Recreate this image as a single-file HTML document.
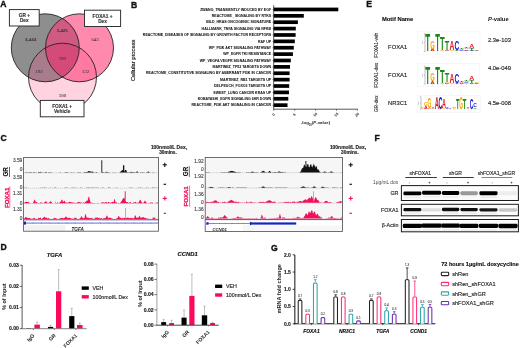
<!DOCTYPE html>
<html><head><meta charset="utf-8"><title>Figure</title>
<style>
html,body{margin:0;padding:0;background:#fff;width:520px;height:348px;overflow:hidden}
svg{display:block;font-family:"Liberation Sans",Arial,sans-serif}
</style></head><body>
<svg width="520" height="348" viewBox="0 0 520 348">
<rect width="520" height="348" fill="#fff"/>
<g id="A">
<text x="0.30" y="6.67" font-size="8.6" font-weight="bold" fill="#111" stroke="#111" stroke-width="0.35">A</text>
<defs>
<clipPath id="cG"><circle cx="45.3" cy="47.8" r="34.0"/></clipPath>
<clipPath id="cP"><circle cx="79.5" cy="47.8" r="34.0"/></clipPath>
<clipPath id="cV"><circle cx="62.5" cy="77.2" r="34.0"/></clipPath>
</defs>
<circle cx="62.5" cy="77.2" r="34.0" fill="#ffd4e0"/>
<circle cx="45.3" cy="47.8" r="34.0" fill="#8e8e8e"/>
<circle cx="79.5" cy="47.8" r="34.0" fill="#ff8aae"/>
<g clip-path="url(#cG)"><circle cx="79.5" cy="47.8" r="34.0" fill="#cf5a82"/><circle cx="62.5" cy="77.2" r="34.0" fill="#a87b8d"/></g>
<g clip-path="url(#cP)"><circle cx="62.5" cy="77.2" r="34.0" fill="#ff7aa2"/></g>
<g clip-path="url(#cG)"><g clip-path="url(#cP)"><circle cx="62.5" cy="77.2" r="34.0" fill="#d44a78"/></g></g>
<circle cx="45.3" cy="47.8" r="34.0" fill="none" stroke="#222" stroke-width="0.9"/>
<circle cx="79.5" cy="47.8" r="34.0" fill="none" stroke="#222" stroke-width="0.9"/>
<circle cx="62.5" cy="77.2" r="34.0" fill="none" stroke="#222" stroke-width="0.9"/>
<text x="30.60" y="41.19" font-size="4.9" font-weight="bold" font-family="Liberation Serif" text-anchor="middle" fill="#333" stroke="#333" stroke-width="0.05">3,444</text>
<text x="62.25" y="32.49" font-size="4.9" font-weight="bold" font-family="Liberation Serif" text-anchor="middle" fill="#333" stroke="#333" stroke-width="0.05">1,425</text>
<text x="95.00" y="41.23" font-size="5.0" font-family="Liberation Serif" text-anchor="middle" fill="#3c3c3c" stroke="#3c3c3c" stroke-width="0.06">543</text>
<text x="62.35" y="59.73" font-size="5.0" font-family="Liberation Serif" text-anchor="middle" fill="#3c3c3c" stroke="#3c3c3c" stroke-width="0.06">789</text>
<text x="38.90" y="73.02" font-size="5.0" font-family="Liberation Serif" text-anchor="middle" fill="#3c3c3c" stroke="#3c3c3c" stroke-width="0.06">192</text>
<text x="85.75" y="73.02" font-size="5.0" font-family="Liberation Serif" text-anchor="middle" fill="#3c3c3c" stroke="#3c3c3c" stroke-width="0.06">132</text>
<text x="62.50" y="96.52" font-size="5.0" font-family="Liberation Serif" text-anchor="middle" fill="#3c3c3c" stroke="#3c3c3c" stroke-width="0.06">180</text>
<rect x="9.40" y="9.60" width="29.80" height="16.40" fill="#fff" stroke="#2a2a2a" stroke-width="0.95"/>
<text x="24.30" y="16.99" font-size="4.75" font-weight="bold" text-anchor="middle" fill="#333" stroke="#333" stroke-width="0.14">GR +</text>
<text x="24.30" y="22.19" font-size="4.75" font-weight="bold" text-anchor="middle" fill="#333" stroke="#333" stroke-width="0.14">Dex</text>
<rect x="84.50" y="10.20" width="36.10" height="16.30" fill="#fff" stroke="#2a2a2a" stroke-width="0.95"/>
<text x="102.55" y="17.54" font-size="4.75" font-weight="bold" text-anchor="middle" fill="#333" stroke="#333" stroke-width="0.14">FOXA1 +</text>
<text x="102.55" y="22.74" font-size="4.75" font-weight="bold" text-anchor="middle" fill="#333" stroke="#333" stroke-width="0.14">Dex</text>
<rect x="40.30" y="100.40" width="43.70" height="16.40" fill="#fff" stroke="#2a2a2a" stroke-width="0.95"/>
<text x="62.15" y="107.79" font-size="4.75" font-weight="bold" text-anchor="middle" fill="#333" stroke="#333" stroke-width="0.14">FOXA1 +</text>
<text x="62.15" y="112.99" font-size="4.75" font-weight="bold" text-anchor="middle" fill="#333" stroke="#333" stroke-width="0.14">Vehicle</text>
</g>
<g id="B">
<text x="130.90" y="7.62" font-size="8.6" font-weight="bold" fill="#111" stroke="#111" stroke-width="0.35">B</text>
<rect x="273.70" y="7.60" width="64.60" height="3.70" fill="#000"/>
<line x1="272.50" y1="9.45" x2="273.70" y2="9.45" stroke="#111" stroke-width="0.5"/>
<text x="271.10" y="10.68" font-size="3.56" font-weight="bold" text-anchor="end" fill="#111" stroke="#111" stroke-width="0.04">ZWANG_TRANSIENTLY INDUCED BY EGF</text>
<rect x="273.70" y="13.98" width="30.10" height="3.70" fill="#000"/>
<line x1="272.50" y1="15.83" x2="273.70" y2="15.83" stroke="#111" stroke-width="0.5"/>
<text x="271.10" y="17.06" font-size="3.56" font-weight="bold" text-anchor="end" fill="#111" stroke="#111" stroke-width="0.04">REACTOME_ SIGNALING BY RTKS</text>
<rect x="273.70" y="20.36" width="24.20" height="3.70" fill="#000"/>
<line x1="272.50" y1="22.21" x2="273.70" y2="22.21" stroke="#111" stroke-width="0.5"/>
<text x="271.10" y="23.44" font-size="3.56" font-weight="bold" text-anchor="end" fill="#111" stroke="#111" stroke-width="0.04">BILD_HRAS ONCOGENIC SIGNATURE</text>
<rect x="273.70" y="26.74" width="22.10" height="3.70" fill="#000"/>
<line x1="272.50" y1="28.59" x2="273.70" y2="28.59" stroke="#111" stroke-width="0.5"/>
<text x="271.10" y="29.82" font-size="3.56" font-weight="bold" text-anchor="end" fill="#111" stroke="#111" stroke-width="0.04">HALLMARK_TNFA SIGNALING VIA NFKB</text>
<rect x="273.70" y="33.12" width="21.90" height="3.70" fill="#000"/>
<line x1="272.50" y1="34.97" x2="273.70" y2="34.97" stroke="#111" stroke-width="0.5"/>
<text x="271.10" y="36.20" font-size="3.56" font-weight="bold" text-anchor="end" fill="#111" stroke="#111" stroke-width="0.04">REACTOME_DISEASES OF SIGNALING  BY GROWTH FACTOR RECEPTORS</text>
<rect x="273.70" y="39.50" width="21.10" height="3.70" fill="#000"/>
<line x1="272.50" y1="41.35" x2="273.70" y2="41.35" stroke="#111" stroke-width="0.5"/>
<text x="271.10" y="42.58" font-size="3.56" font-weight="bold" text-anchor="end" fill="#111" stroke="#111" stroke-width="0.04">RAF UP</text>
<rect x="273.70" y="45.88" width="20.10" height="3.70" fill="#000"/>
<line x1="272.50" y1="47.73" x2="273.70" y2="47.73" stroke="#111" stroke-width="0.5"/>
<text x="271.10" y="48.96" font-size="3.56" font-weight="bold" text-anchor="end" fill="#111" stroke="#111" stroke-width="0.04">WP_PI3K AKT SIGNALING PATHWAY</text>
<rect x="273.70" y="52.26" width="19.20" height="3.70" fill="#000"/>
<line x1="272.50" y1="54.11" x2="273.70" y2="54.11" stroke="#111" stroke-width="0.5"/>
<text x="271.10" y="55.34" font-size="3.56" font-weight="bold" text-anchor="end" fill="#111" stroke="#111" stroke-width="0.04">WP_EGFR TKI RESISTANCE</text>
<rect x="273.70" y="58.64" width="17.10" height="3.70" fill="#000"/>
<line x1="272.50" y1="60.49" x2="273.70" y2="60.49" stroke="#111" stroke-width="0.5"/>
<text x="271.10" y="61.72" font-size="3.56" font-weight="bold" text-anchor="end" fill="#111" stroke="#111" stroke-width="0.04">WP_VEGFA VEGFR SIGNALING PATHWAY</text>
<rect x="273.70" y="65.02" width="16.30" height="3.70" fill="#000"/>
<line x1="272.50" y1="66.87" x2="273.70" y2="66.87" stroke="#111" stroke-width="0.5"/>
<text x="271.10" y="68.10" font-size="3.56" font-weight="bold" text-anchor="end" fill="#111" stroke="#111" stroke-width="0.04">MARTINEZ_TP53 TARGETS DOWN</text>
<rect x="273.70" y="71.40" width="15.90" height="3.70" fill="#000"/>
<line x1="272.50" y1="73.25" x2="273.70" y2="73.25" stroke="#111" stroke-width="0.5"/>
<text x="271.10" y="74.48" font-size="3.56" font-weight="bold" text-anchor="end" fill="#111" stroke="#111" stroke-width="0.04">REACTOME_CONSTITUTIVE SIGNALING BY ABERRANT PI3K IN CANCER</text>
<rect x="273.70" y="77.78" width="15.90" height="3.70" fill="#000"/>
<line x1="272.50" y1="79.63" x2="273.70" y2="79.63" stroke="#111" stroke-width="0.5"/>
<text x="271.10" y="80.86" font-size="3.56" font-weight="bold" text-anchor="end" fill="#111" stroke="#111" stroke-width="0.04">MARTINEZ_RB1 TARGETS UP</text>
<rect x="273.70" y="84.16" width="15.50" height="3.70" fill="#000"/>
<line x1="272.50" y1="86.01" x2="273.70" y2="86.01" stroke="#111" stroke-width="0.5"/>
<text x="271.10" y="87.24" font-size="3.56" font-weight="bold" text-anchor="end" fill="#111" stroke="#111" stroke-width="0.04">DELPEUCH_FOXO3 TARGETS UP</text>
<rect x="273.70" y="90.54" width="15.30" height="3.70" fill="#000"/>
<line x1="272.50" y1="92.39" x2="273.70" y2="92.39" stroke="#111" stroke-width="0.5"/>
<text x="271.10" y="93.62" font-size="3.56" font-weight="bold" text-anchor="end" fill="#111" stroke="#111" stroke-width="0.04">SWEET_LUNG CANCER KRAS UP</text>
<rect x="273.70" y="96.92" width="14.60" height="3.70" fill="#000"/>
<line x1="272.50" y1="98.77" x2="273.70" y2="98.77" stroke="#111" stroke-width="0.5"/>
<text x="271.10" y="100.00" font-size="3.56" font-weight="bold" text-anchor="end" fill="#111" stroke="#111" stroke-width="0.04">KOBAYASHI_EGFR SIGNALING 6HR DOWN</text>
<rect x="273.70" y="103.30" width="13.80" height="3.70" fill="#000"/>
<line x1="272.50" y1="105.15" x2="273.70" y2="105.15" stroke="#111" stroke-width="0.5"/>
<text x="271.10" y="106.38" font-size="3.56" font-weight="bold" text-anchor="end" fill="#111" stroke="#111" stroke-width="0.04">REACTOME_PI3K AKT SIGNALING IN CANCER</text>
<line x1="273.70" y1="5.30" x2="273.70" y2="109.40" stroke="#111" stroke-width="0.7"/>
<line x1="273.70" y1="109.20" x2="357.80" y2="109.20" stroke="#111" stroke-width="0.7"/>
<line x1="273.80" y1="109.20" x2="273.80" y2="110.80" stroke="#111" stroke-width="0.5"/>
<text transform="translate(273.50,114.6) rotate(-45)" text-anchor="middle" y="1.3" font-size="3.7" font-weight="bold" fill="#222">0</text>
<line x1="294.70" y1="109.20" x2="294.70" y2="110.80" stroke="#111" stroke-width="0.5"/>
<text transform="translate(294.40,114.6) rotate(-45)" text-anchor="middle" y="1.3" font-size="3.7" font-weight="bold" fill="#222">5</text>
<line x1="315.60" y1="109.20" x2="315.60" y2="110.80" stroke="#111" stroke-width="0.5"/>
<text transform="translate(315.30,114.6) rotate(-45)" text-anchor="middle" y="1.3" font-size="3.7" font-weight="bold" fill="#222">10</text>
<line x1="336.50" y1="109.20" x2="336.50" y2="110.80" stroke="#111" stroke-width="0.5"/>
<text transform="translate(336.20,114.6) rotate(-45)" text-anchor="middle" y="1.3" font-size="3.7" font-weight="bold" fill="#222">15</text>
<line x1="357.40" y1="109.20" x2="357.40" y2="110.80" stroke="#111" stroke-width="0.5"/>
<text transform="translate(357.10,114.6) rotate(-45)" text-anchor="middle" y="1.3" font-size="3.7" font-weight="bold" fill="#222">20</text>
<text x="315.5" y="124.4" font-size="4.3" font-weight="bold" fill="#222" text-anchor="middle">-log<tspan font-size="2.8" dy="1.2">10</tspan><tspan dy="-1.2">(</tspan><tspan font-style="italic">P</tspan>-value)</text>
<text transform="translate(134.9,60.3) rotate(-90)" text-anchor="middle" y="0" font-size="5.8" fill="#111" stroke="#111" stroke-width="0.15">Cellular process</text>
</g>
<g id="E">
<text x="366.20" y="7.42" font-size="8.6" font-weight="bold" fill="#111" stroke="#111" stroke-width="0.35">E</text>
<text x="382.00" y="20.90" font-size="5.8" font-weight="bold" fill="#111" stroke="#111" stroke-width="0.14">Motif Name</text>
<text x="488" y="20.9" font-size="5.8" font-weight="bold" fill="#111"><tspan font-style="italic">P</tspan>-value</text>
<text transform="translate(376.4,45.25) rotate(-90)" text-anchor="middle" y="1.65" font-size="4.8" fill="#222" stroke="#222" stroke-width="0.1">FOXA1-veh</text>
<text transform="translate(376.4,75.3) rotate(-90)" text-anchor="middle" y="1.65" font-size="4.8" fill="#222" stroke="#222" stroke-width="0.1">FOXA1-dex</text>
<text transform="translate(376.4,103.9) rotate(-90)" text-anchor="middle" y="1.65" font-size="4.8" fill="#222" stroke="#222" stroke-width="0.1">GR-dex</text>
<text x="388.10" y="48.80" font-size="5.8" fill="#222" stroke="#222" stroke-width="0.14">FOXA1</text>
<text x="388.10" y="77.30" font-size="5.8" fill="#222" stroke="#222" stroke-width="0.14">FOXA1</text>
<text x="388.10" y="105.40" font-size="5.8" fill="#222" stroke="#222" stroke-width="0.14">NR3C1</text>
<text x="488.00" y="41.80" font-size="5.8" fill="#222" stroke="#222" stroke-width="0.14">2.3e-103</text>
<text x="488.00" y="70.30" font-size="5.8" fill="#222" stroke="#222" stroke-width="0.14">4.0e-049</text>
<text x="488.00" y="105.30" font-size="5.8" fill="#222" stroke="#222" stroke-width="0.14">4.5e-008</text>
<rect x="417.80" y="31.20" width="62.20" height="23.60" fill="#fff" stroke="#f2f2f2" stroke-width="0.6"/>
<path d="M423.80,33.60 H425.00 V51.60 H423.80 M424.20,42.60 H425.00" fill="none" stroke="#777" stroke-width="0.45"/>
<text transform="translate(422.80,42.60) rotate(-90)" text-anchor="middle" y="0.6" font-size="1.8" fill="#777">bits</text>
<text transform="translate(427.75,51.40) scale(0.802,2.391)" text-anchor="middle" font-size="10" font-weight="bold" fill="#178a17">T</text>
<line x1="427.75" y1="51.70" x2="427.75" y2="52.40" stroke="#999" stroke-width="0.4"/>
<text transform="translate(432.50,51.40) scale(0.629,0.377)" text-anchor="middle" font-size="10" font-weight="bold" fill="#e0201e">A</text>
<text transform="translate(432.50,48.80) scale(0.584,1.116)" text-anchor="middle" font-size="10" font-weight="bold" fill="#f7a600">G</text>
<line x1="432.50" y1="51.70" x2="432.50" y2="52.40" stroke="#999" stroke-width="0.4"/>
<text transform="translate(437.55,51.40) scale(0.763,2.391)" text-anchor="middle" font-size="10" font-weight="bold" fill="#178a17">T</text>
<line x1="437.55" y1="51.70" x2="437.55" y2="52.40" stroke="#999" stroke-width="0.4"/>
<text transform="translate(442.25,51.40) scale(0.599,0.174)" text-anchor="middle" font-size="10" font-weight="bold" fill="#f7a600">G</text>
<text transform="translate(442.25,50.20) scale(0.763,1.841)" text-anchor="middle" font-size="10" font-weight="bold" fill="#178a17">T</text>
<line x1="442.25" y1="51.70" x2="442.25" y2="52.40" stroke="#999" stroke-width="0.4"/>
<text transform="translate(447.00,51.40) scale(0.629,0.087)" text-anchor="middle" font-size="10" font-weight="bold" fill="#1818e0">C</text>
<text transform="translate(447.00,50.80) scale(0.584,0.188)" text-anchor="middle" font-size="10" font-weight="bold" fill="#f7a600">G</text>
<text transform="translate(447.00,49.50) scale(0.744,1.203)" text-anchor="middle" font-size="10" font-weight="bold" fill="#178a17">T</text>
<line x1="447.00" y1="51.70" x2="447.00" y2="52.40" stroke="#999" stroke-width="0.4"/>
<text transform="translate(451.85,51.40) scale(0.630,0.174)" text-anchor="middle" font-size="10" font-weight="bold" fill="#f7a600">G</text>
<text transform="translate(451.85,50.20) scale(0.679,1.246)" text-anchor="middle" font-size="10" font-weight="bold" fill="#e0201e">A</text>
<line x1="451.85" y1="51.70" x2="451.85" y2="52.40" stroke="#999" stroke-width="0.4"/>
<text transform="translate(456.80,51.40) scale(0.783,0.174)" text-anchor="middle" font-size="10" font-weight="bold" fill="#178a17">T</text>
<text transform="translate(456.80,50.20) scale(0.662,1.246)" text-anchor="middle" font-size="10" font-weight="bold" fill="#1818e0">C</text>
<line x1="456.80" y1="51.70" x2="456.80" y2="52.40" stroke="#999" stroke-width="0.4"/>
<text transform="translate(461.60,51.40) scale(0.662,0.145)" text-anchor="middle" font-size="10" font-weight="bold" fill="#1818e0">C</text>
<text transform="translate(461.60,50.40) scale(0.662,0.203)" text-anchor="middle" font-size="10" font-weight="bold" fill="#e0201e">A</text>
<text transform="translate(461.60,49.00) scale(0.783,0.232)" text-anchor="middle" font-size="10" font-weight="bold" fill="#178a17">T</text>
<line x1="461.60" y1="51.70" x2="461.60" y2="52.40" stroke="#999" stroke-width="0.4"/>
<text transform="translate(466.50,51.40) scale(0.615,0.116)" text-anchor="middle" font-size="10" font-weight="bold" fill="#f7a600">G</text>
<text transform="translate(466.50,50.60) scale(0.662,0.174)" text-anchor="middle" font-size="10" font-weight="bold" fill="#1818e0">C</text>
<text transform="translate(466.50,49.40) scale(0.662,0.145)" text-anchor="middle" font-size="10" font-weight="bold" fill="#e0201e">A</text>
<text transform="translate(466.50,48.40) scale(0.783,0.145)" text-anchor="middle" font-size="10" font-weight="bold" fill="#178a17">T</text>
<line x1="466.50" y1="51.70" x2="466.50" y2="52.40" stroke="#999" stroke-width="0.4"/>
<text transform="translate(471.70,51.40) scale(0.696,0.087)" text-anchor="middle" font-size="10" font-weight="bold" fill="#1818e0">C</text>
<text transform="translate(471.70,50.80) scale(0.822,0.435)" text-anchor="middle" font-size="10" font-weight="bold" fill="#178a17">T</text>
<text transform="translate(471.70,47.80) scale(0.696,0.507)" text-anchor="middle" font-size="10" font-weight="bold" fill="#e0201e">A</text>
<line x1="471.70" y1="51.70" x2="471.70" y2="52.40" stroke="#999" stroke-width="0.4"/>
<text transform="translate(476.60,51.40) scale(0.662,0.087)" text-anchor="middle" font-size="10" font-weight="bold" fill="#1818e0">C</text>
<text transform="translate(476.60,50.80) scale(0.615,0.188)" text-anchor="middle" font-size="10" font-weight="bold" fill="#f7a600">G</text>
<line x1="476.60" y1="51.70" x2="476.60" y2="52.40" stroke="#999" stroke-width="0.4"/>
<rect x="417.60" y="63.40" width="62.00" height="23.10" fill="#fff" stroke="#f2f2f2" stroke-width="0.6"/>
<path d="M423.80,66.10 H425.00 V84.10 H423.80 M424.20,75.10 H425.00" fill="none" stroke="#777" stroke-width="0.45"/>
<text transform="translate(422.80,75.10) rotate(-90)" text-anchor="middle" y="0.6" font-size="1.8" fill="#777">bits</text>
<text transform="translate(427.75,83.90) scale(0.802,2.391)" text-anchor="middle" font-size="10" font-weight="bold" fill="#178a17">T</text>
<line x1="427.75" y1="84.20" x2="427.75" y2="84.90" stroke="#999" stroke-width="0.4"/>
<text transform="translate(432.50,83.90) scale(0.629,0.377)" text-anchor="middle" font-size="10" font-weight="bold" fill="#e0201e">A</text>
<text transform="translate(432.50,81.30) scale(0.584,1.116)" text-anchor="middle" font-size="10" font-weight="bold" fill="#f7a600">G</text>
<line x1="432.50" y1="84.20" x2="432.50" y2="84.90" stroke="#999" stroke-width="0.4"/>
<text transform="translate(437.55,83.90) scale(0.763,2.391)" text-anchor="middle" font-size="10" font-weight="bold" fill="#178a17">T</text>
<line x1="437.55" y1="84.20" x2="437.55" y2="84.90" stroke="#999" stroke-width="0.4"/>
<text transform="translate(442.25,83.90) scale(0.599,0.174)" text-anchor="middle" font-size="10" font-weight="bold" fill="#f7a600">G</text>
<text transform="translate(442.25,82.70) scale(0.763,1.841)" text-anchor="middle" font-size="10" font-weight="bold" fill="#178a17">T</text>
<line x1="442.25" y1="84.20" x2="442.25" y2="84.90" stroke="#999" stroke-width="0.4"/>
<text transform="translate(447.00,83.90) scale(0.629,0.087)" text-anchor="middle" font-size="10" font-weight="bold" fill="#1818e0">C</text>
<text transform="translate(447.00,83.30) scale(0.584,0.188)" text-anchor="middle" font-size="10" font-weight="bold" fill="#f7a600">G</text>
<text transform="translate(447.00,82.00) scale(0.744,1.203)" text-anchor="middle" font-size="10" font-weight="bold" fill="#178a17">T</text>
<line x1="447.00" y1="84.20" x2="447.00" y2="84.90" stroke="#999" stroke-width="0.4"/>
<text transform="translate(451.85,83.90) scale(0.630,0.174)" text-anchor="middle" font-size="10" font-weight="bold" fill="#f7a600">G</text>
<text transform="translate(451.85,82.70) scale(0.679,1.246)" text-anchor="middle" font-size="10" font-weight="bold" fill="#e0201e">A</text>
<line x1="451.85" y1="84.20" x2="451.85" y2="84.90" stroke="#999" stroke-width="0.4"/>
<text transform="translate(456.80,83.90) scale(0.783,0.174)" text-anchor="middle" font-size="10" font-weight="bold" fill="#178a17">T</text>
<text transform="translate(456.80,82.70) scale(0.662,1.246)" text-anchor="middle" font-size="10" font-weight="bold" fill="#1818e0">C</text>
<line x1="456.80" y1="84.20" x2="456.80" y2="84.90" stroke="#999" stroke-width="0.4"/>
<text transform="translate(461.60,83.90) scale(0.662,0.145)" text-anchor="middle" font-size="10" font-weight="bold" fill="#1818e0">C</text>
<text transform="translate(461.60,82.90) scale(0.662,0.203)" text-anchor="middle" font-size="10" font-weight="bold" fill="#e0201e">A</text>
<text transform="translate(461.60,81.50) scale(0.783,0.232)" text-anchor="middle" font-size="10" font-weight="bold" fill="#178a17">T</text>
<line x1="461.60" y1="84.20" x2="461.60" y2="84.90" stroke="#999" stroke-width="0.4"/>
<text transform="translate(466.50,83.90) scale(0.615,0.116)" text-anchor="middle" font-size="10" font-weight="bold" fill="#f7a600">G</text>
<text transform="translate(466.50,83.10) scale(0.662,0.174)" text-anchor="middle" font-size="10" font-weight="bold" fill="#1818e0">C</text>
<text transform="translate(466.50,81.90) scale(0.662,0.145)" text-anchor="middle" font-size="10" font-weight="bold" fill="#e0201e">A</text>
<text transform="translate(466.50,80.90) scale(0.783,0.145)" text-anchor="middle" font-size="10" font-weight="bold" fill="#178a17">T</text>
<line x1="466.50" y1="84.20" x2="466.50" y2="84.90" stroke="#999" stroke-width="0.4"/>
<text transform="translate(471.70,83.90) scale(0.696,0.087)" text-anchor="middle" font-size="10" font-weight="bold" fill="#1818e0">C</text>
<text transform="translate(471.70,83.30) scale(0.822,0.435)" text-anchor="middle" font-size="10" font-weight="bold" fill="#178a17">T</text>
<text transform="translate(471.70,80.30) scale(0.696,0.507)" text-anchor="middle" font-size="10" font-weight="bold" fill="#e0201e">A</text>
<line x1="471.70" y1="84.20" x2="471.70" y2="84.90" stroke="#999" stroke-width="0.4"/>
<text transform="translate(476.60,83.90) scale(0.662,0.087)" text-anchor="middle" font-size="10" font-weight="bold" fill="#1818e0">C</text>
<text transform="translate(476.60,83.30) scale(0.615,0.188)" text-anchor="middle" font-size="10" font-weight="bold" fill="#f7a600">G</text>
<line x1="476.60" y1="84.20" x2="476.60" y2="84.90" stroke="#999" stroke-width="0.4"/>
<rect x="417.60" y="95.40" width="62.90" height="17.00" fill="#fff" stroke="#f2f2f2" stroke-width="0.6"/>
<path d="M419.80,96.80 H421.00 V109.30 H419.80 M420.20,103.05 H421.00" fill="none" stroke="#777" stroke-width="0.45"/>
<text transform="translate(418.80,103.05) rotate(-90)" text-anchor="middle" y="0.6" font-size="1.8" fill="#777">bits</text>
<text transform="translate(422.55,108.60) scale(0.323,0.087)" text-anchor="middle" font-size="10" font-weight="bold" fill="#f7a600">G</text>
<text transform="translate(422.55,108.00) scale(0.348,0.087)" text-anchor="middle" font-size="10" font-weight="bold" fill="#e0201e">A</text>
<line x1="422.55" y1="108.90" x2="422.55" y2="109.60" stroke="#999" stroke-width="0.4"/>
<text transform="translate(425.85,108.60) scale(0.513,0.333)" text-anchor="middle" font-size="10" font-weight="bold" fill="#e0201e">A</text>
<text transform="translate(425.85,106.30) scale(0.476,0.507)" text-anchor="middle" font-size="10" font-weight="bold" fill="#f7a600">G</text>
<line x1="425.85" y1="108.90" x2="425.85" y2="109.60" stroke="#999" stroke-width="0.4"/>
<text transform="translate(429.50,108.60) scale(0.530,0.116)" text-anchor="middle" font-size="10" font-weight="bold" fill="#e0201e">A</text>
<text transform="translate(429.50,107.80) scale(0.492,1.420)" text-anchor="middle" font-size="10" font-weight="bold" fill="#f7a600">G</text>
<line x1="429.50" y1="108.90" x2="429.50" y2="109.60" stroke="#999" stroke-width="0.4"/>
<text transform="translate(433.10,108.60) scale(0.431,0.130)" text-anchor="middle" font-size="10" font-weight="bold" fill="#e0201e">A</text>
<text transform="translate(433.10,107.70) scale(0.509,0.116)" text-anchor="middle" font-size="10" font-weight="bold" fill="#178a17">T</text>
<line x1="433.10" y1="108.90" x2="433.10" y2="109.60" stroke="#999" stroke-width="0.4"/>
<text transform="translate(436.75,108.60) scale(0.580,1.565)" text-anchor="middle" font-size="10" font-weight="bold" fill="#e0201e">A</text>
<line x1="436.75" y1="108.90" x2="436.75" y2="109.60" stroke="#999" stroke-width="0.4"/>
<text transform="translate(440.55,108.60) scale(0.546,1.580)" text-anchor="middle" font-size="10" font-weight="bold" fill="#1818e0">C</text>
<line x1="440.55" y1="108.90" x2="440.55" y2="109.60" stroke="#999" stroke-width="0.4"/>
<text transform="translate(443.95,108.60) scale(0.507,0.101)" text-anchor="middle" font-size="10" font-weight="bold" fill="#f7a600">G</text>
<text transform="translate(443.95,107.90) scale(0.546,1.362)" text-anchor="middle" font-size="10" font-weight="bold" fill="#e0201e">A</text>
<line x1="443.95" y1="108.90" x2="443.95" y2="109.60" stroke="#999" stroke-width="0.4"/>
<text transform="translate(447.20,108.60) scale(0.431,0.101)" text-anchor="middle" font-size="10" font-weight="bold" fill="#1818e0">C</text>
<text transform="translate(447.20,107.90) scale(0.509,0.130)" text-anchor="middle" font-size="10" font-weight="bold" fill="#178a17">T</text>
<line x1="447.20" y1="108.90" x2="447.20" y2="109.60" stroke="#999" stroke-width="0.4"/>
<text transform="translate(450.25,108.60) scale(0.282,0.072)" text-anchor="middle" font-size="10" font-weight="bold" fill="#1818e0">C</text>
<line x1="450.25" y1="108.90" x2="450.25" y2="109.60" stroke="#999" stroke-width="0.4"/>
<text transform="translate(454.05,108.60) scale(0.476,0.145)" text-anchor="middle" font-size="10" font-weight="bold" fill="#f7a600">G</text>
<text transform="translate(454.05,107.60) scale(0.513,0.217)" text-anchor="middle" font-size="10" font-weight="bold" fill="#e0201e">A</text>
<line x1="454.05" y1="108.90" x2="454.05" y2="109.60" stroke="#999" stroke-width="0.4"/>
<text transform="translate(457.65,108.60) scale(0.567,1.406)" text-anchor="middle" font-size="10" font-weight="bold" fill="#178a17">T</text>
<line x1="457.65" y1="108.90" x2="457.65" y2="109.60" stroke="#999" stroke-width="0.4"/>
<text transform="translate(461.15,108.60) scale(0.476,1.565)" text-anchor="middle" font-size="10" font-weight="bold" fill="#f7a600">G</text>
<line x1="461.15" y1="108.90" x2="461.15" y2="109.60" stroke="#999" stroke-width="0.4"/>
<text transform="translate(464.60,108.60) scale(0.587,1.536)" text-anchor="middle" font-size="10" font-weight="bold" fill="#178a17">T</text>
<line x1="464.60" y1="108.90" x2="464.60" y2="109.60" stroke="#999" stroke-width="0.4"/>
<text transform="translate(467.95,108.60) scale(0.381,0.116)" text-anchor="middle" font-size="10" font-weight="bold" fill="#e0201e">A</text>
<text transform="translate(467.95,107.80) scale(0.450,0.130)" text-anchor="middle" font-size="10" font-weight="bold" fill="#178a17">T</text>
<line x1="467.95" y1="108.90" x2="467.95" y2="109.60" stroke="#999" stroke-width="0.4"/>
<text transform="translate(471.55,108.60) scale(0.513,1.507)" text-anchor="middle" font-size="10" font-weight="bold" fill="#1818e0">C</text>
<line x1="471.55" y1="108.90" x2="471.55" y2="109.60" stroke="#999" stroke-width="0.4"/>
<text transform="translate(475.00,108.60) scale(0.587,0.217)" text-anchor="middle" font-size="10" font-weight="bold" fill="#178a17">T</text>
<text transform="translate(475.00,107.10) scale(0.497,0.493)" text-anchor="middle" font-size="10" font-weight="bold" fill="#1818e0">C</text>
<line x1="475.00" y1="108.90" x2="475.00" y2="109.60" stroke="#999" stroke-width="0.4"/>
<text transform="translate(478.10,108.60) scale(0.215,0.058)" text-anchor="middle" font-size="10" font-weight="bold" fill="#f7a600">G</text>
<line x1="478.10" y1="108.90" x2="478.10" y2="109.60" stroke="#999" stroke-width="0.4"/>
</g>
<g id="C">
<text x="0.60" y="141.17" font-size="8.6" font-weight="bold" fill="#111" stroke="#111" stroke-width="0.35">C</text>
<rect x="23.60" y="157.40" width="134.90" height="62.40" fill="#f6f6f6"/>
<rect x="23.60" y="219.80" width="134.90" height="11.40" fill="#fff"/>
<line x1="24.10" y1="172.85" x2="158.00" y2="172.85" stroke="#9a9a9a" stroke-width="0.45" stroke-dasharray="1.2,0.8"/>
<polygon points="24.40,172.60 24.40,172.54 24.85,172.54 24.85,172.40 25.30,172.40 25.30,172.23 25.75,172.23 25.75,172.11 26.20,172.11 26.20,172.35 26.65,172.35 26.65,172.35 27.10,172.35 27.10,172.35 27.55,172.35 27.55,172.35 28.00,172.35 28.00,172.35 28.45,172.35 28.45,172.35 28.90,172.35 28.90,172.35 29.35,172.35 29.35,172.35 29.80,172.35 29.80,172.35 30.25,172.35 30.25,172.02 30.70,172.02 30.70,172.10 31.15,172.10 31.15,172.35 31.60,172.35 31.60,172.37 32.05,172.37 32.05,172.46 32.50,172.46 32.50,172.42 32.95,172.42 32.95,172.23 33.40,172.23 33.40,172.07 33.85,172.07 33.85,172.02 34.30,172.02 34.30,172.15 34.75,172.15 34.75,172.36 35.20,172.36 35.20,172.44 35.65,172.44 35.65,172.32 36.10,172.32 36.10,172.18 36.55,172.18 36.55,172.60 37.00,172.60 37.00,172.60 37.45,172.60 37.45,172.60 37.90,172.60 37.90,172.08 38.35,172.08 38.35,172.00 38.80,172.00 38.80,171.94 39.25,171.94 39.25,172.03 39.70,172.03 39.70,171.96 40.15,171.96 40.15,171.85 40.60,171.85 40.60,171.91 41.05,171.91 41.05,172.13 41.50,172.13 41.50,172.18 41.95,172.18 41.95,172.27 42.40,172.27 42.40,172.23 42.85,172.23 42.85,172.45 43.30,172.45 43.30,172.37 43.75,172.37 43.75,172.46 44.20,172.46 44.20,172.39 44.65,172.39 44.65,172.25 45.10,172.25 45.10,172.00 45.55,172.00 45.55,171.85 46.00,171.85 46.00,171.91 46.45,171.91 46.45,172.00 46.90,172.00 46.90,172.60 47.35,172.60 47.35,172.60 47.80,172.60 47.80,172.31 48.25,172.31 48.25,172.19 48.70,172.19 48.70,172.23 49.15,172.23 49.15,172.35 49.60,172.35 49.60,172.34 50.05,172.34 50.05,172.27 50.50,172.27 50.50,172.06 50.95,172.06 50.95,172.07 51.40,172.07 51.40,172.60 51.85,172.60 51.85,172.60 52.30,172.60 52.30,172.60 52.75,172.60 52.75,172.60 53.20,172.60 53.20,172.60 53.65,172.60 53.65,172.60 54.10,172.60 54.10,172.60 54.55,172.60 54.55,172.60 55.00,172.60 55.00,172.60 55.45,172.60 55.45,172.60 55.90,172.60 55.90,172.60 56.35,172.60 56.35,172.60 56.80,172.60 56.80,172.60 57.25,172.60 57.25,172.60 57.70,172.60 57.70,172.60 58.15,172.60 58.15,172.60 58.60,172.60 58.60,172.60 59.05,172.60 59.05,172.60 59.50,172.60 59.50,172.34 59.95,172.34 59.95,172.23 60.40,172.23 60.40,172.35 60.85,172.35 60.85,172.60 61.30,172.60 61.30,172.60 61.75,172.60 61.75,172.60 62.20,172.60 62.20,172.60 62.65,172.60 62.65,172.60 63.10,172.60 63.10,172.60 63.55,172.60 63.55,172.60 64.00,172.60 64.00,172.60 64.45,172.60 64.45,172.60 64.90,172.60 64.90,171.93 65.35,171.93 65.35,172.13 65.80,172.13 65.80,172.10 66.25,172.10 66.25,172.21 66.70,172.21 66.70,172.13 67.15,172.13 67.15,172.27 67.60,172.27 67.60,172.20 68.05,172.20 68.05,172.13 68.50,172.13 68.50,172.60 68.95,172.60 68.95,172.60 69.40,172.60 69.40,172.60 69.85,172.60 69.85,172.60 70.30,172.60 70.30,172.60 70.75,172.60 70.75,172.12 71.20,172.12 71.20,172.35 71.65,172.35 71.65,172.35 72.10,172.35 72.10,172.45 72.55,172.45 72.55,172.38 73.00,172.38 73.00,172.25 73.45,172.25 73.45,171.99 73.90,171.99 73.90,172.60 74.35,172.60 74.35,172.60 74.80,172.60 74.80,172.60 75.25,172.60 75.25,172.60 75.70,172.60 75.70,172.60 76.15,172.60 76.15,172.60 76.60,172.60 76.60,172.60 77.05,172.60 77.05,172.35 77.50,172.35 77.50,172.35 77.95,172.35 77.95,172.35 78.40,172.35 78.40,172.35 78.85,172.35 78.85,172.35 79.30,172.35 79.30,172.35 79.75,172.35 79.75,172.35 80.20,172.35 80.20,172.10 80.65,172.10 80.65,172.60 81.10,172.60 81.10,172.60 81.55,172.60 81.55,172.60 82.00,172.60 82.00,172.60 82.45,172.60 82.45,172.60 82.90,172.60 82.90,172.60 83.35,172.60 83.35,172.14 83.80,172.14 83.80,172.28 84.25,172.28 84.25,172.04 84.70,172.04 84.70,172.12 85.15,172.12 85.15,171.95 85.60,171.95 85.60,172.15 86.05,172.15 86.05,172.12 86.50,172.12 86.50,172.11 86.95,172.11 86.95,172.00 87.40,172.00 87.40,171.76 87.85,171.76 87.85,171.34 88.30,171.34 88.30,171.28 88.75,171.28 88.75,170.96 89.20,170.96 89.20,171.20 89.65,171.20 89.65,171.14 90.10,171.14 90.10,171.48 90.55,171.48 90.55,171.62 91.00,171.62 91.00,171.90 91.45,171.90 91.45,171.61 91.90,171.61 91.90,171.39 92.35,171.39 92.35,171.43 92.80,171.43 92.80,171.70 93.25,171.70 93.25,172.00 93.70,172.00 93.70,172.28 94.15,172.28 94.15,172.47 94.60,172.47 94.60,172.55 95.05,172.55 95.05,172.32 95.50,172.32 95.50,172.30 95.95,172.30 95.95,172.30 96.40,172.30 96.40,172.11 96.85,172.11 96.85,172.03 97.30,172.03 97.30,172.60 97.75,172.60 97.75,172.60 98.20,172.60 98.20,172.60 98.65,172.60 98.65,172.60 99.10,172.60 99.10,172.60 99.55,172.60 99.55,172.60 100.00,172.60 100.00,172.60 100.45,172.60 100.45,172.60 100.90,172.60 100.90,172.60 101.35,172.60 101.35,160.20 101.80,160.20 101.80,160.20 102.25,160.20 102.25,172.11 102.70,172.11 102.70,172.01 103.15,172.01 103.15,172.00 103.60,172.00 103.60,172.13 104.05,172.13 104.05,172.40 104.50,172.40 104.50,172.26 104.95,172.26 104.95,172.31 105.40,172.31 105.40,172.04 105.85,172.04 105.85,172.07 106.30,172.07 106.30,171.82 106.75,171.82 106.75,171.86 107.20,171.86 107.20,172.02 107.65,172.02 107.65,172.24 108.10,172.24 108.10,172.20 108.55,172.20 108.55,172.17 109.00,172.17 109.00,171.98 109.45,171.98 109.45,172.60 109.90,172.60 109.90,172.60 110.35,172.60 110.35,172.60 110.80,172.60 110.80,172.60 111.25,172.60 111.25,172.60 111.70,172.60 111.70,172.60 112.15,172.60 112.15,172.60 112.60,172.60 112.60,172.35 113.05,172.35 113.05,172.40 113.50,172.40 113.50,172.37 113.95,172.37 113.95,172.44 114.40,172.44 114.40,172.35 114.85,172.35 114.85,172.35 115.30,172.35 115.30,172.35 115.75,172.35 115.75,172.60 116.20,172.60 116.20,172.60 116.65,172.60 116.65,172.60 117.10,172.60 117.10,172.59 117.55,172.59 117.55,172.58 118.00,172.58 118.00,172.56 118.45,172.56 118.45,172.51 118.90,172.51 118.90,172.43 119.35,172.43 119.35,172.25 119.80,172.25 119.80,172.00 120.25,172.00 120.25,171.65 120.70,171.65 120.70,171.18 121.15,171.18 121.15,170.91 121.60,170.91 121.60,170.26 122.05,170.26 122.05,170.37 122.50,170.37 122.50,169.96 122.95,169.96 122.95,165.30 123.40,165.30 123.40,165.30 123.85,165.30 123.85,165.30 124.30,165.30 124.30,171.60 124.75,171.60 124.75,170.52 125.20,170.52 125.20,170.11 125.65,170.11 125.65,169.78 126.10,169.78 126.10,170.28 126.55,170.28 126.55,171.41 127.00,171.41 127.00,172.11 127.45,172.11 127.45,172.31 127.90,172.31 127.90,172.33 128.35,172.33 128.35,172.21 128.80,172.21 128.80,172.33 129.25,172.33 129.25,172.37 129.70,172.37 129.70,172.22 130.15,172.22 130.15,171.96 130.60,171.96 130.60,171.76 131.05,171.76 131.05,171.82 131.50,171.82 131.50,171.95 131.95,171.95 131.95,171.95 132.40,171.95 132.40,172.09 132.85,172.09 132.85,172.04 133.30,172.04 133.30,172.15 133.75,172.15 133.75,172.11 134.20,172.11 134.20,172.21 134.65,172.21 134.65,172.29 135.10,172.29 135.10,172.23 135.55,172.23 135.55,172.22 136.00,172.22 136.00,172.02 136.45,172.02 136.45,171.65 136.90,171.65 136.90,171.34 137.35,171.34 137.35,171.44 137.80,171.44 137.80,171.96 138.25,171.96 138.25,172.25 138.70,172.25 138.70,172.48 139.15,172.48 139.15,172.57 139.60,172.57 139.60,172.59 140.05,172.59 140.05,172.35 140.50,172.35 140.50,172.35 140.95,172.35 140.95,172.35 141.40,172.35 141.40,172.35 141.85,172.35 141.85,172.35 142.30,172.35 142.30,172.35 142.75,172.35 142.75,172.35 143.20,172.35 143.20,172.35 143.65,172.35 143.65,172.35 144.10,172.35 144.10,172.35 144.55,172.35 144.55,172.60 145.00,172.60 145.00,172.59 145.45,172.59 145.45,172.56 145.90,172.56 145.90,172.49 146.35,172.49 146.35,172.05 146.80,172.05 146.80,172.13 147.25,172.13 147.25,171.91 147.70,171.91 147.70,171.59 148.15,171.59 148.15,171.61 148.60,171.61 148.60,171.73 149.05,171.73 149.05,172.07 149.50,172.07 149.50,172.28 149.95,172.28 149.95,172.46 150.40,172.46 150.40,172.55 150.85,172.55 150.85,172.58 151.30,172.58 151.30,172.60 151.75,172.60 151.75,172.42 152.20,172.42 152.20,172.40 152.65,172.40 152.65,172.29 153.10,172.29 153.10,172.05 153.55,172.05 153.55,172.60 154.00,172.60 154.00,172.60 154.45,172.60 154.45,172.60 154.90,172.60 154.90,172.60 155.35,172.60 155.35,172.60 155.80,172.60 155.80,172.60 156.25,172.60 156.25,172.60 156.70,172.60 156.70,172.60 157.15,172.60 157.15,172.60 157.60,172.60 157.60,172.60 158.05,172.60 157.70,172.60" fill="#111"/>
<line x1="24.10" y1="188.25" x2="158.00" y2="188.25" stroke="#9a9a9a" stroke-width="0.45" stroke-dasharray="1.2,0.8"/>
<polygon points="24.40,188.00 24.40,187.81 24.85,187.81 24.85,187.75 25.30,187.75 25.30,187.67 25.75,187.67 25.75,187.82 26.20,187.82 26.20,187.68 26.65,187.68 26.65,187.60 27.10,187.60 27.10,188.00 27.55,188.00 27.55,188.00 28.00,188.00 28.00,188.00 28.45,188.00 28.45,188.00 28.90,188.00 28.90,188.00 29.35,188.00 29.35,188.00 29.80,188.00 29.80,188.00 30.25,188.00 30.25,188.00 30.70,188.00 30.70,188.00 31.15,188.00 31.15,188.00 31.60,188.00 31.60,188.00 32.05,188.00 32.05,188.00 32.50,188.00 32.50,188.00 32.95,188.00 32.95,188.00 33.40,188.00 33.40,188.00 33.85,188.00 33.85,188.00 34.30,188.00 34.30,188.00 34.75,188.00 34.75,188.00 35.20,188.00 35.20,188.00 35.65,188.00 35.65,188.00 36.10,188.00 36.10,188.00 36.55,188.00 36.55,188.00 37.00,188.00 37.00,188.00 37.45,188.00 37.45,188.00 37.90,188.00 37.90,188.00 38.35,188.00 38.35,188.00 38.80,188.00 38.80,188.00 39.25,188.00 39.25,188.00 39.70,188.00 39.70,188.00 40.15,188.00 40.15,187.75 40.60,187.75 40.60,187.75 41.05,187.75 41.05,187.75 41.50,187.75 41.50,187.75 41.95,187.75 41.95,187.75 42.40,187.75 42.40,187.75 42.85,187.75 42.85,187.75 43.30,187.75 43.30,187.75 43.75,187.75 43.75,187.75 44.20,187.75 44.20,187.61 44.65,187.61 44.65,187.72 45.10,187.72 45.10,187.73 45.55,187.73 45.55,187.72 46.00,187.72 46.00,187.81 46.45,187.81 46.45,187.87 46.90,187.87 46.90,188.00 47.35,188.00 47.35,188.00 47.80,188.00 47.80,188.00 48.25,188.00 48.25,188.00 48.70,188.00 48.70,187.88 49.15,187.88 49.15,187.88 49.60,187.88 49.60,187.83 50.05,187.83 50.05,187.78 50.50,187.78 50.50,187.79 50.95,187.79 50.95,187.78 51.40,187.78 51.40,188.00 51.85,188.00 51.85,188.00 52.30,188.00 52.30,188.00 52.75,188.00 52.75,188.00 53.20,188.00 53.20,188.00 53.65,188.00 53.65,187.64 54.10,187.64 54.10,187.68 54.55,187.68 54.55,187.60 55.00,187.60 55.00,187.57 55.45,187.57 55.45,187.54 55.90,187.54 55.90,187.64 56.35,187.64 56.35,188.00 56.80,188.00 56.80,188.00 57.25,188.00 57.25,188.00 57.70,188.00 57.70,188.00 58.15,188.00 58.15,188.00 58.60,188.00 58.60,188.00 59.05,188.00 59.05,188.00 59.50,188.00 59.50,188.00 59.95,188.00 59.95,188.00 60.40,188.00 60.40,188.00 60.85,188.00 60.85,188.00 61.30,188.00 61.30,188.00 61.75,188.00 61.75,188.00 62.20,188.00 62.20,188.00 62.65,188.00 62.65,188.00 63.10,188.00 63.10,188.00 63.55,188.00 63.55,188.00 64.00,188.00 64.00,188.00 64.45,188.00 64.45,187.66 64.90,187.66 64.90,187.64 65.35,187.64 65.35,187.50 65.80,187.50 65.80,187.52 66.25,187.52 66.25,187.46 66.70,187.46 66.70,187.66 67.15,187.66 67.15,187.65 67.60,187.65 67.60,188.00 68.05,188.00 68.05,188.00 68.50,188.00 68.50,188.00 68.95,188.00 68.95,188.00 69.40,188.00 69.40,188.00 69.85,188.00 69.85,188.00 70.30,188.00 70.30,188.00 70.75,188.00 70.75,187.75 71.20,187.75 71.20,187.79 71.65,187.79 71.65,187.75 72.10,187.75 72.10,187.75 72.55,187.75 72.55,187.75 73.00,187.75 73.00,187.75 73.45,187.75 73.45,187.83 73.90,187.83 73.90,187.79 74.35,187.79 74.35,187.75 74.80,187.75 74.80,187.75 75.25,187.75 75.25,187.67 75.70,187.67 75.70,187.73 76.15,187.73 76.15,187.66 76.60,187.66 76.60,188.00 77.05,188.00 77.05,188.00 77.50,188.00 77.50,188.00 77.95,188.00 77.95,188.00 78.40,188.00 78.40,188.00 78.85,188.00 78.85,188.00 79.30,188.00 79.30,188.00 79.75,188.00 79.75,187.75 80.20,187.75 80.20,187.72 80.65,187.72 80.65,187.75 81.10,187.75 81.10,187.64 81.55,187.64 81.55,187.78 82.00,187.78 82.00,187.67 82.45,187.67 82.45,188.00 82.90,188.00 82.90,188.00 83.35,188.00 83.35,188.00 83.80,188.00 83.80,188.00 84.25,188.00 84.25,188.00 84.70,188.00 84.70,188.00 85.15,188.00 85.15,188.00 85.60,188.00 85.60,188.00 86.05,188.00 86.05,187.85 86.50,187.85 86.50,187.78 86.95,187.78 86.95,187.70 87.40,187.70 87.40,187.53 87.85,187.53 87.85,187.40 88.30,187.40 88.30,187.58 88.75,187.58 88.75,187.70 89.20,187.70 89.20,187.84 89.65,187.84 89.65,187.77 90.10,187.77 90.10,187.72 90.55,187.72 90.55,187.69 91.00,187.69 91.00,187.63 91.45,187.63 91.45,187.61 91.90,187.61 91.90,187.56 92.35,187.56 92.35,187.69 92.80,187.69 92.80,187.66 93.25,187.66 93.25,187.67 93.70,187.67 93.70,187.63 94.15,187.63 94.15,187.71 94.60,187.71 94.60,187.64 95.05,187.64 95.05,187.75 95.50,187.75 95.50,187.75 95.95,187.75 95.95,187.75 96.40,187.75 96.40,187.75 96.85,187.75 96.85,187.75 97.30,187.75 97.30,187.75 97.75,187.75 97.75,187.75 98.20,187.75 98.20,187.75 98.65,187.75 98.65,187.75 99.10,187.75 99.10,188.00 99.55,188.00 99.55,188.00 100.00,188.00 100.00,188.00 100.45,188.00 100.45,188.00 100.90,188.00 100.90,188.00 101.35,188.00 101.35,187.76 101.80,187.76 101.80,187.82 102.25,187.82 102.25,187.64 102.70,187.64 102.70,187.51 103.15,187.51 103.15,187.42 103.60,187.42 103.60,188.00 104.05,188.00 104.05,188.00 104.50,188.00 104.50,188.00 104.95,188.00 104.95,188.00 105.40,188.00 105.40,188.00 105.85,188.00 105.85,188.00 106.30,188.00 106.30,188.00 106.75,188.00 106.75,188.00 107.20,188.00 107.20,188.00 107.65,188.00 107.65,188.00 108.10,188.00 108.10,187.46 108.55,187.46 108.55,187.57 109.00,187.57 109.00,187.56 109.45,187.56 109.45,187.60 109.90,187.60 109.90,187.64 110.35,187.64 110.35,188.00 110.80,188.00 110.80,188.00 111.25,188.00 111.25,188.00 111.70,188.00 111.70,188.00 112.15,188.00 112.15,188.00 112.60,188.00 112.60,188.00 113.05,188.00 113.05,188.00 113.50,188.00 113.50,188.00 113.95,188.00 113.95,188.00 114.40,188.00 114.40,188.00 114.85,188.00 114.85,188.00 115.30,188.00 115.30,188.00 115.75,188.00 115.75,187.80 116.20,187.80 116.20,187.70 116.65,187.70 116.65,187.68 117.10,187.68 117.10,187.73 117.55,187.73 117.55,187.76 118.00,187.76 118.00,188.00 118.45,188.00 118.45,188.00 118.90,188.00 118.90,188.00 119.35,188.00 119.35,188.00 119.80,188.00 119.80,188.00 120.25,188.00 120.25,188.00 120.70,188.00 120.70,188.00 121.15,188.00 121.15,188.00 121.60,188.00 121.60,188.00 122.05,188.00 122.05,188.00 122.50,188.00 122.50,188.00 122.95,188.00 122.95,188.00 123.40,188.00 123.40,188.00 123.85,188.00 123.85,188.00 124.30,188.00 124.30,188.00 124.75,188.00 124.75,188.00 125.20,188.00 125.20,188.00 125.65,188.00 125.65,188.00 126.10,188.00 126.10,188.00 126.55,188.00 126.55,188.00 127.00,188.00 127.00,188.00 127.45,188.00 127.45,188.00 127.90,188.00 127.90,188.00 128.35,188.00 128.35,188.00 128.80,188.00 128.80,188.00 129.25,188.00 129.25,187.61 129.70,187.61 129.70,187.71 130.15,187.71 130.15,187.75 130.60,187.75 130.60,187.80 131.05,187.80 131.05,187.85 131.50,187.85 131.50,187.75 131.95,187.75 131.95,187.75 132.40,187.75 132.40,187.75 132.85,187.75 132.85,188.00 133.30,188.00 133.30,188.00 133.75,188.00 133.75,188.00 134.20,188.00 134.20,188.00 134.65,188.00 134.65,188.00 135.10,188.00 135.10,188.00 135.55,188.00 135.55,188.00 136.00,188.00 136.00,188.00 136.45,188.00 136.45,188.00 136.90,188.00 136.90,188.00 137.35,188.00 137.35,188.00 137.80,188.00 137.80,187.70 138.25,187.70 138.25,187.76 138.70,187.76 138.70,187.79 139.15,187.79 139.15,187.74 139.60,187.74 139.60,187.77 140.05,187.77 140.05,187.82 140.50,187.82 140.50,187.87 140.95,187.87 140.95,187.76 141.40,187.76 141.40,187.78 141.85,187.78 141.85,187.75 142.30,187.75 142.30,187.82 142.75,187.82 142.75,188.00 143.20,188.00 143.20,188.00 143.65,188.00 143.65,188.00 144.10,188.00 144.10,188.00 144.55,188.00 144.55,188.00 145.00,188.00 145.00,188.00 145.45,188.00 145.45,188.00 145.90,188.00 145.90,187.62 146.35,187.62 146.35,187.64 146.80,187.64 146.80,187.66 147.25,187.66 147.25,187.72 147.70,187.72 147.70,187.71 148.15,187.71 148.15,187.63 148.60,187.63 148.60,188.00 149.05,188.00 149.05,188.00 149.50,188.00 149.50,188.00 149.95,188.00 149.95,188.00 150.40,188.00 150.40,188.00 150.85,188.00 150.85,188.00 151.30,188.00 151.30,188.00 151.75,188.00 151.75,187.62 152.20,187.62 152.20,187.61 152.65,187.61 152.65,187.65 153.10,187.65 153.10,187.72 153.55,187.72 153.55,187.62 154.00,187.62 154.00,187.77 154.45,187.77 154.45,187.79 154.90,187.79 154.90,187.90 155.35,187.90 155.35,187.85 155.80,187.85 155.80,187.75 156.25,187.75 156.25,187.80 156.70,187.80 156.70,187.72 157.15,187.72 157.15,187.71 157.60,187.71 157.60,188.00 158.05,188.00 157.70,188.00" fill="#666"/>
<line x1="24.10" y1="203.55" x2="158.00" y2="203.55" stroke="#9a9a9a" stroke-width="0.45" stroke-dasharray="1.2,0.8"/>
<polygon points="24.40,203.30 24.40,202.60 24.85,202.60 24.85,202.02 25.30,202.02 25.30,201.89 25.75,201.89 25.75,201.38 26.20,201.38 26.20,201.64 26.65,201.64 26.65,201.89 27.10,201.89 27.10,202.03 27.55,202.03 27.55,201.90 28.00,201.90 28.00,201.82 28.45,201.82 28.45,202.33 28.90,202.33 28.90,202.57 29.35,202.57 29.35,203.05 29.80,203.05 29.80,203.05 30.25,203.05 30.25,203.05 30.70,203.05 30.70,203.05 31.15,203.05 31.15,203.30 31.60,203.30 31.60,203.29 32.05,203.29 32.05,203.25 32.50,203.25 32.50,203.07 32.95,203.07 32.95,202.62 33.40,202.62 33.40,201.73 33.85,201.73 33.85,200.58 34.30,200.58 34.30,199.57 34.75,199.57 34.75,199.88 35.20,199.88 35.20,200.98 35.65,200.98 35.65,202.24 36.10,202.24 36.10,202.21 36.55,202.21 36.55,202.25 37.00,202.25 37.00,202.17 37.45,202.17 37.45,203.05 37.90,203.05 37.90,203.05 38.35,203.05 38.35,203.05 38.80,203.05 38.80,203.05 39.25,203.05 39.25,203.05 39.70,203.05 39.70,203.05 40.15,203.05 40.15,202.30 40.60,202.30 40.60,202.47 41.05,202.47 41.05,202.63 41.50,202.63 41.50,202.41 41.95,202.41 41.95,202.39 42.40,202.39 42.40,203.28 42.85,203.28 42.85,203.24 43.30,203.24 43.30,203.12 43.75,203.12 43.75,202.86 44.20,202.86 44.20,202.46 44.65,202.46 44.65,202.05 45.10,202.05 45.10,201.46 45.55,201.46 45.55,201.22 46.00,201.22 46.00,201.58 46.45,201.58 46.45,201.99 46.90,201.99 46.90,202.61 47.35,202.61 47.35,202.95 47.80,202.95 47.80,203.17 48.25,203.17 48.25,203.08 48.70,203.08 48.70,202.79 49.15,202.79 49.15,202.27 49.60,202.27 49.60,201.87 50.05,201.87 50.05,201.44 50.50,201.44 50.50,201.30 50.95,201.30 50.95,201.73 51.40,201.73 51.40,202.20 51.85,202.20 51.85,202.76 52.30,202.76 52.30,203.04 52.75,203.04 52.75,203.20 53.20,203.20 53.20,203.27 53.65,203.27 53.65,203.29 54.10,203.29 54.10,203.30 54.55,203.30 54.55,203.30 55.00,203.30 55.00,201.52 55.45,201.52 55.45,203.05 55.90,203.05 55.90,203.05 56.35,203.05 56.35,203.05 56.80,203.05 56.80,203.05 57.25,203.05 57.25,202.26 57.70,202.26 57.70,202.29 58.15,202.29 58.15,203.30 58.60,203.30 58.60,203.30 59.05,203.30 59.05,202.63 59.50,202.63 59.50,202.33 59.95,202.33 59.95,201.83 60.40,201.83 60.40,201.93 60.85,201.93 60.85,201.30 61.30,201.30 61.30,200.06 61.75,200.06 61.75,199.61 62.20,199.61 62.20,200.07 62.65,200.07 62.65,201.38 63.10,201.38 63.10,202.05 63.55,202.05 63.55,201.26 64.00,201.26 64.00,200.62 64.45,200.62 64.45,201.05 64.90,201.05 64.90,201.97 65.35,201.97 65.35,202.17 65.80,202.17 65.80,202.70 66.25,202.70 66.25,202.49 66.70,202.49 66.70,202.43 67.15,202.43 67.15,202.44 67.60,202.44 67.60,202.92 68.05,202.92 68.05,202.61 68.50,202.61 68.50,202.28 68.95,202.28 68.95,201.99 69.40,201.99 69.40,201.77 69.85,201.77 69.85,201.96 70.30,201.96 70.30,202.28 70.75,202.28 70.75,202.36 71.20,202.36 71.20,202.40 71.65,202.40 71.65,202.08 72.10,202.08 72.10,202.56 72.55,202.56 72.55,202.57 73.00,202.57 73.00,203.01 73.45,203.01 73.45,202.59 73.90,202.59 73.90,202.61 74.35,202.61 74.35,202.57 74.80,202.57 74.80,202.93 75.25,202.93 75.25,202.86 75.70,202.86 75.70,202.93 76.15,202.93 76.15,202.91 76.60,202.91 76.60,202.64 77.05,202.64 77.05,202.13 77.50,202.13 77.50,202.15 77.95,202.15 77.95,202.19 78.40,202.19 78.40,202.09 78.85,202.09 78.85,201.87 79.30,201.87 79.30,202.03 79.75,202.03 79.75,202.66 80.20,202.66 80.20,202.46 80.65,202.46 80.65,202.15 81.10,202.15 81.10,202.10 81.55,202.10 81.55,203.30 82.00,203.30 82.00,203.30 82.45,203.30 82.45,203.30 82.90,203.30 82.90,202.09 83.35,202.09 83.35,202.57 83.80,202.57 83.80,202.89 84.25,202.89 84.25,202.74 84.70,202.74 84.70,202.35 85.15,202.35 85.15,201.76 85.60,201.76 85.60,201.63 86.05,201.63 86.05,201.29 86.50,201.29 86.50,200.86 86.95,200.86 86.95,200.30 87.40,200.30 87.40,200.68 87.85,200.68 87.85,198.75 88.30,198.75 88.30,196.94 88.75,196.94 88.75,196.43 89.20,196.43 89.20,197.98 89.65,197.98 89.65,199.92 90.10,199.92 90.10,201.46 90.55,201.46 90.55,202.61 91.00,202.61 91.00,202.84 91.45,202.84 91.45,202.51 91.90,202.51 91.90,202.69 92.35,202.69 92.35,203.05 92.80,203.05 92.80,203.05 93.25,203.05 93.25,203.05 93.70,203.05 93.70,203.05 94.15,203.05 94.15,203.05 94.60,203.05 94.60,203.05 95.05,203.05 95.05,203.05 95.50,203.05 95.50,203.30 95.95,203.30 95.95,203.30 96.40,203.30 96.40,203.30 96.85,203.30 96.85,203.30 97.30,203.30 97.30,203.05 97.75,203.05 97.75,203.05 98.20,203.05 98.20,203.05 98.65,203.05 98.65,203.05 99.10,203.05 99.10,203.30 99.55,203.30 99.55,203.30 100.00,203.30 100.00,203.30 100.45,203.30 100.45,203.30 100.90,203.30 100.90,203.30 101.35,203.30 101.35,202.28 101.80,202.28 101.80,202.21 102.25,202.21 102.25,202.51 102.70,202.51 102.70,202.04 103.15,202.04 103.15,202.50 103.60,202.50 103.60,202.46 104.05,202.46 104.05,202.85 104.50,202.85 104.50,202.61 104.95,202.61 104.95,202.53 105.40,202.53 105.40,202.20 105.85,202.20 105.85,202.02 106.30,202.02 106.30,202.09 106.75,202.09 106.75,202.43 107.20,202.43 107.20,202.80 107.65,202.80 107.65,202.46 108.10,202.46 108.10,201.89 108.55,201.89 108.55,202.05 109.00,202.05 109.00,202.21 109.45,202.21 109.45,202.68 109.90,202.68 109.90,202.65 110.35,202.65 110.35,202.75 110.80,202.75 110.80,202.39 111.25,202.39 111.25,202.47 111.70,202.47 111.70,202.08 112.15,202.08 112.15,202.06 112.60,202.06 112.60,201.65 113.05,201.65 113.05,202.04 113.50,202.04 113.50,201.65 113.95,201.65 113.95,199.48 114.40,199.48 114.40,198.96 114.85,198.96 114.85,200.62 115.30,200.62 115.30,202.35 115.75,202.35 115.75,202.61 116.20,202.61 116.20,202.27 116.65,202.27 116.65,202.37 117.10,202.37 117.10,203.05 117.55,203.05 117.55,203.05 118.00,203.05 118.00,203.05 118.45,203.05 118.45,203.05 118.90,203.05 118.90,203.05 119.35,203.05 119.35,203.05 119.80,203.05 119.80,203.05 120.25,203.05 120.25,202.43 120.70,202.43 120.70,201.97 121.15,201.97 121.15,201.25 121.60,201.25 121.60,200.77 122.05,200.77 122.05,199.83 122.50,199.83 122.50,198.94 122.95,198.94 122.95,198.31 123.40,198.31 123.40,198.26 123.85,198.26 123.85,197.86 124.30,197.86 124.30,198.81 124.75,198.81 124.75,191.30 125.20,191.30 125.20,191.30 125.65,191.30 125.65,201.20 126.10,201.20 126.10,201.89 126.55,201.89 126.55,202.35 127.00,202.35 127.00,202.10 127.45,202.10 127.45,202.10 127.90,202.10 127.90,202.52 128.35,202.52 128.35,202.93 128.80,202.93 128.80,202.78 129.25,202.78 129.25,202.31 129.70,202.31 129.70,202.16 130.15,202.16 130.15,202.09 130.60,202.09 130.60,202.54 131.05,202.54 131.05,203.05 131.50,203.05 131.50,203.05 131.95,203.05 131.95,203.05 132.40,203.05 132.40,203.05 132.85,203.05 132.85,203.05 133.30,203.05 133.30,201.92 133.75,201.92 133.75,202.50 134.20,202.50 134.20,202.63 134.65,202.63 134.65,202.23 135.10,202.23 135.10,201.66 135.55,201.66 135.55,202.10 136.00,202.10 136.00,202.60 136.45,202.60 136.45,203.06 136.90,203.06 136.90,202.87 137.35,202.87 137.35,202.76 137.80,202.76 137.80,202.83 138.25,202.83 138.25,202.74 138.70,202.74 138.70,202.03 139.15,202.03 139.15,201.09 139.60,201.09 139.60,200.01 140.05,200.01 140.05,199.72 140.50,199.72 140.50,200.29 140.95,200.29 140.95,201.37 141.40,201.37 141.40,202.29 141.85,202.29 141.85,202.18 142.30,202.18 142.30,203.17 142.75,203.17 142.75,203.10 143.20,203.10 143.20,202.75 143.65,202.75 143.65,202.20 144.10,202.20 144.10,201.58 144.55,201.58 144.55,200.83 145.00,200.83 145.00,201.14 145.45,201.14 145.45,201.37 145.90,201.37 145.90,202.16 146.35,202.16 146.35,202.79 146.80,202.79 146.80,203.11 147.25,203.11 147.25,203.24 147.70,203.24 147.70,203.29 148.15,203.29 148.15,203.30 148.60,203.30 148.60,203.05 149.05,203.05 149.05,203.05 149.50,203.05 149.50,203.05 149.95,203.05 149.95,203.05 150.40,203.05 150.40,202.27 150.85,202.27 150.85,202.54 151.30,202.54 151.30,202.59 151.75,202.59 151.75,202.45 152.20,202.45 152.20,202.38 152.65,202.38 152.65,202.72 153.10,202.72 153.10,203.30 153.55,203.30 153.55,203.30 154.00,203.30 154.00,203.30 154.45,203.30 154.45,203.30 154.90,203.30 154.90,203.30 155.35,203.30 155.35,202.79 155.80,202.79 155.80,202.81 156.25,202.81 156.25,203.07 156.70,203.07 156.70,202.55 157.15,202.55 157.15,202.35 157.60,202.35 157.60,202.40 158.05,202.40 157.70,203.30" fill="#f0105a"/>
<line x1="24.10" y1="219.15" x2="158.00" y2="219.15" stroke="#9a9a9a" stroke-width="0.45" stroke-dasharray="1.2,0.8"/>
<polygon points="24.40,218.90 24.40,218.06 24.85,218.06 24.85,217.50 25.30,217.50 25.30,217.29 25.75,217.29 25.75,216.96 26.20,216.96 26.20,217.30 26.65,217.30 26.65,217.67 27.10,217.67 27.10,217.74 27.55,217.74 27.55,218.01 28.00,218.01 28.00,218.20 28.45,218.20 28.45,217.88 28.90,217.88 28.90,218.01 29.35,218.01 29.35,217.80 29.80,217.80 29.80,218.32 30.25,218.32 30.25,218.65 30.70,218.65 30.70,218.65 31.15,218.65 31.15,218.65 31.60,218.65 31.60,218.65 32.05,218.65 32.05,218.65 32.50,218.65 32.50,218.65 32.95,218.65 32.95,218.65 33.40,218.65 33.40,217.77 33.85,217.77 33.85,218.07 34.30,218.07 34.30,218.32 34.75,218.32 34.75,217.96 35.20,217.96 35.20,218.90 35.65,218.90 35.65,218.90 36.10,218.90 36.10,218.90 36.55,218.90 36.55,218.90 37.00,218.90 37.00,218.90 37.45,218.90 37.45,218.90 37.90,218.90 37.90,218.06 38.35,218.06 38.35,217.78 38.80,217.78 38.80,218.32 39.25,218.32 39.25,217.90 39.70,217.90 39.70,217.90 40.15,217.90 40.15,217.68 40.60,217.68 40.60,217.51 41.05,217.51 41.05,218.90 41.50,218.90 41.50,218.89 41.95,218.89 41.95,218.85 42.40,218.85 42.40,218.08 42.85,218.08 42.85,217.97 43.30,217.97 43.30,217.64 43.75,217.64 43.75,216.99 44.20,216.99 44.20,216.49 44.65,216.49 44.65,216.90 45.10,216.90 45.10,217.52 45.55,217.52 45.55,217.93 46.00,217.93 46.00,217.51 46.45,217.51 46.45,217.69 46.90,217.69 46.90,218.03 47.35,218.03 47.35,218.56 47.80,218.56 47.80,218.54 48.25,218.54 48.25,218.03 48.70,218.03 48.70,217.96 49.15,217.96 49.15,218.65 49.60,218.65 49.60,218.90 50.05,218.90 50.05,218.90 50.50,218.90 50.50,218.90 50.95,218.90 50.95,218.90 51.40,218.90 51.40,218.90 51.85,218.90 51.85,218.90 52.30,218.90 52.30,218.90 52.75,218.90 52.75,218.90 53.20,218.90 53.20,218.37 53.65,218.37 53.65,218.43 54.10,218.43 54.10,218.23 54.55,218.23 54.55,217.85 55.00,217.85 55.00,218.10 55.45,218.10 55.45,218.19 55.90,218.19 55.90,218.56 56.35,218.56 56.35,218.28 56.80,218.28 56.80,218.90 57.25,218.90 57.25,218.90 57.70,218.90 57.70,218.90 58.15,218.90 58.15,218.90 58.60,218.90 58.60,218.90 59.05,218.90 59.05,218.90 59.50,218.90 59.50,218.17 59.95,218.17 59.95,218.33 60.40,218.33 60.40,218.36 60.85,218.36 60.85,218.10 61.30,218.10 61.30,218.20 61.75,218.20 61.75,217.75 62.20,217.75 62.20,218.05 62.65,218.05 62.65,218.04 63.10,218.04 63.10,218.17 63.55,218.17 63.55,218.22 64.00,218.22 64.00,217.92 64.45,217.92 64.45,217.65 64.90,217.65 64.90,217.29 65.35,217.29 65.35,216.72 65.80,216.72 65.80,216.50 66.25,216.50 66.25,216.87 66.70,216.87 66.70,217.71 67.15,217.71 67.15,217.70 67.60,217.70 67.60,217.92 68.05,217.92 68.05,218.00 68.50,218.00 68.50,217.78 68.95,217.78 68.95,217.69 69.40,217.69 69.40,217.86 69.85,217.86 69.85,218.44 70.30,218.44 70.30,218.06 70.75,218.06 70.75,218.12 71.20,218.12 71.20,218.65 71.65,218.65 71.65,218.65 72.10,218.65 72.10,218.65 72.55,218.65 72.55,218.65 73.00,218.65 73.00,218.65 73.45,218.65 73.45,218.65 73.90,218.65 73.90,218.65 74.35,218.65 74.35,217.55 74.80,217.55 74.80,217.79 75.25,217.79 75.25,217.91 75.70,217.91 75.70,217.69 76.15,217.69 76.15,217.82 76.60,217.82 76.60,218.90 77.05,218.90 77.05,218.90 77.50,218.90 77.50,218.90 77.95,218.90 77.95,218.90 78.40,218.90 78.40,218.89 78.85,218.89 78.85,218.87 79.30,218.87 79.30,218.75 79.75,218.75 79.75,218.46 80.20,218.46 80.20,217.67 80.65,217.67 80.65,217.14 81.10,217.14 81.10,216.34 81.55,216.34 81.55,216.61 82.00,216.61 82.00,217.56 82.45,217.56 82.45,218.01 82.90,218.01 82.90,217.79 83.35,217.79 83.35,218.26 83.80,218.26 83.80,218.33 84.25,218.33 84.25,217.92 84.70,217.92 84.70,215.68 85.15,215.68 85.15,214.17 85.60,214.17 85.60,214.22 86.05,214.22 86.05,216.56 86.50,216.56 86.50,217.59 86.95,217.59 86.95,217.67 87.40,217.67 87.40,217.45 87.85,217.45 87.85,217.87 88.30,217.87 88.30,217.81 88.75,217.81 88.75,218.18 89.20,218.18 89.20,218.12 89.65,218.12 89.65,218.07 90.10,218.07 90.10,218.27 90.55,218.27 90.55,218.13 91.00,218.13 91.00,218.22 91.45,218.22 91.45,217.79 91.90,217.79 91.90,217.92 92.35,217.92 92.35,218.65 92.80,218.65 92.80,218.65 93.25,218.65 93.25,218.65 93.70,218.65 93.70,218.65 94.15,218.65 94.15,218.65 94.60,218.65 94.60,218.65 95.05,218.65 95.05,217.41 95.50,217.41 95.50,217.76 95.95,217.76 95.95,217.92 96.40,217.92 96.40,217.60 96.85,217.60 96.85,217.34 97.30,217.34 97.30,217.46 97.75,217.46 97.75,217.75 98.20,217.75 98.20,218.10 98.65,218.10 98.65,218.02 99.10,218.02 99.10,218.30 99.55,218.30 99.55,218.09 100.00,218.09 100.00,218.43 100.45,218.43 100.45,218.13 100.90,218.13 100.90,218.11 101.35,218.11 101.35,217.67 101.80,217.67 101.80,218.90 102.25,218.90 102.25,218.90 102.70,218.90 102.70,218.90 103.15,218.90 103.15,217.96 103.60,217.96 103.60,218.17 104.05,218.17 104.05,218.24 104.50,218.24 104.50,218.16 104.95,218.16 104.95,218.00 105.40,218.00 105.40,217.91 105.85,217.91 105.85,216.98 106.30,216.98 106.30,215.76 106.75,215.76 106.75,215.69 107.20,215.69 107.20,216.34 107.65,216.34 107.65,217.34 108.10,217.34 108.10,217.81 108.55,217.81 108.55,218.18 109.00,218.18 109.00,217.83 109.45,217.83 109.45,217.75 109.90,217.75 109.90,217.59 110.35,217.59 110.35,217.81 110.80,217.81 110.80,218.04 111.25,218.04 111.25,218.40 111.70,218.40 111.70,218.50 112.15,218.50 112.15,218.65 112.60,218.65 112.60,218.65 113.05,218.65 113.05,218.90 113.50,218.90 113.50,218.90 113.95,218.90 113.95,218.90 114.40,218.90 114.40,218.90 114.85,218.90 114.85,218.90 115.30,218.90 115.30,218.90 115.75,218.90 115.75,218.89 116.20,218.89 116.20,218.47 116.65,218.47 116.65,218.20 117.10,218.20 117.10,218.14 117.55,218.14 117.55,217.49 118.00,217.49 118.00,216.38 118.45,216.38 118.45,216.03 118.90,216.03 118.90,216.29 119.35,216.29 119.35,217.34 119.80,217.34 119.80,217.97 120.25,217.97 120.25,217.74 120.70,217.74 120.70,217.89 121.15,217.89 121.15,217.95 121.60,217.95 121.60,218.39 122.05,218.39 122.05,218.08 122.50,218.08 122.50,218.23 122.95,218.23 122.95,218.24 123.40,218.24 123.40,218.32 123.85,218.32 123.85,217.77 124.30,217.77 124.30,217.77 124.75,217.77 124.75,218.04 125.20,218.04 125.20,208.20 125.65,208.20 125.65,218.37 126.10,218.37 126.10,218.19 126.55,218.19 126.55,217.73 127.00,217.73 127.00,217.71 127.45,217.71 127.45,217.58 127.90,217.58 127.90,217.86 128.35,217.86 128.35,217.83 128.80,217.83 128.80,218.04 129.25,218.04 129.25,218.15 129.70,218.15 129.70,218.25 130.15,218.25 130.15,217.91 130.60,217.91 130.60,218.00 131.05,218.00 131.05,217.80 131.50,217.80 131.50,218.34 131.95,218.34 131.95,218.06 132.40,218.06 132.40,218.35 132.85,218.35 132.85,218.43 133.30,218.43 133.30,218.43 133.75,218.43 133.75,218.26 134.20,218.26 134.20,217.26 134.65,217.26 134.65,215.63 135.10,215.63 135.10,215.17 135.55,215.17 135.55,216.25 136.00,216.25 136.00,217.57 136.45,217.57 136.45,217.75 136.90,217.75 136.90,217.41 137.35,217.41 137.35,217.40 137.80,217.40 137.80,217.73 138.25,217.73 138.25,217.82 138.70,217.82 138.70,216.85 139.15,216.85 139.15,215.86 139.60,215.86 139.60,216.30 140.05,216.30 140.05,217.55 140.50,217.55 140.50,217.56 140.95,217.56 140.95,217.54 141.40,217.54 141.40,217.68 141.85,217.68 141.85,217.66 142.30,217.66 142.30,217.34 142.75,217.34 142.75,217.02 143.20,217.02 143.20,217.02 143.65,217.02 143.65,217.50 144.10,217.50 144.10,217.71 144.55,217.71 144.55,218.01 145.00,218.01 145.00,217.87 145.45,217.87 145.45,218.05 145.90,218.05 145.90,218.07 146.35,218.07 146.35,218.65 146.80,218.65 146.80,218.65 147.25,218.65 147.25,218.65 147.70,218.65 147.70,218.65 148.15,218.65 148.15,218.65 148.60,218.65 148.60,218.65 149.05,218.65 149.05,218.90 149.50,218.90 149.50,218.90 149.95,218.90 149.95,218.90 150.40,218.90 150.40,218.90 150.85,218.90 150.85,218.90 151.30,218.90 151.30,218.90 151.75,218.90 151.75,218.90 152.20,218.90 152.20,218.90 152.65,218.90 152.65,217.60 153.10,217.60 153.10,217.63 153.55,217.63 153.55,217.78 154.00,217.78 154.00,217.87 154.45,217.87 154.45,217.52 154.90,217.52 154.90,217.69 155.35,217.69 155.35,218.90 155.80,218.90 155.80,218.90 156.25,218.90 156.25,218.90 156.70,218.90 156.70,218.90 157.15,218.90 157.15,218.90 157.60,218.90 157.60,218.78 158.05,218.78 157.70,218.90" fill="#f0105a"/>
<line x1="23.60" y1="219.80" x2="158.50" y2="219.80" stroke="#333" stroke-width="0.8"/>
<rect x="24.20" y="225.30" width="41.20" height="5.30" fill="#f2f2f2"/>
<line x1="24.00" y1="223.10" x2="158.00" y2="223.10" stroke="#a8b0f0" stroke-width="1.2"/>
<line x1="24.00" y1="223.10" x2="158.00" y2="223.10" stroke="#3a46d8" stroke-width="0.35"/>
<rect x="23.80" y="221.60" width="2.20" height="3.00" fill="#1020c8"/>
<path d="M33.0,222.5 l0.6,0.6 l-0.6,0.6" fill="none" stroke="#3a46d8" stroke-width="0.35"/>
<path d="M41.4,222.5 l0.6,0.6 l-0.6,0.6" fill="none" stroke="#3a46d8" stroke-width="0.35"/>
<path d="M49.8,222.5 l0.6,0.6 l-0.6,0.6" fill="none" stroke="#3a46d8" stroke-width="0.35"/>
<path d="M58.2,222.5 l0.6,0.6 l-0.6,0.6" fill="none" stroke="#3a46d8" stroke-width="0.35"/>
<path d="M66.6,222.5 l0.6,0.6 l-0.6,0.6" fill="none" stroke="#3a46d8" stroke-width="0.35"/>
<path d="M75.0,222.5 l0.6,0.6 l-0.6,0.6" fill="none" stroke="#3a46d8" stroke-width="0.35"/>
<path d="M83.4,222.5 l0.6,0.6 l-0.6,0.6" fill="none" stroke="#3a46d8" stroke-width="0.35"/>
<path d="M91.8,222.5 l0.6,0.6 l-0.6,0.6" fill="none" stroke="#3a46d8" stroke-width="0.35"/>
<path d="M100.2,222.5 l0.6,0.6 l-0.6,0.6" fill="none" stroke="#3a46d8" stroke-width="0.35"/>
<path d="M108.6,222.5 l0.6,0.6 l-0.6,0.6" fill="none" stroke="#3a46d8" stroke-width="0.35"/>
<path d="M117.0,222.5 l0.6,0.6 l-0.6,0.6" fill="none" stroke="#3a46d8" stroke-width="0.35"/>
<path d="M125.4,222.5 l0.6,0.6 l-0.6,0.6" fill="none" stroke="#3a46d8" stroke-width="0.35"/>
<path d="M133.8,222.5 l0.6,0.6 l-0.6,0.6" fill="none" stroke="#3a46d8" stroke-width="0.35"/>
<path d="M142.2,222.5 l0.6,0.6 l-0.6,0.6" fill="none" stroke="#3a46d8" stroke-width="0.35"/>
<path d="M150.6,222.5 l0.6,0.6 l-0.6,0.6" fill="none" stroke="#3a46d8" stroke-width="0.35"/>
<text x="71.50" y="230.60" font-size="4.6" font-weight="bold" font-style="italic" fill="#222">TGFA</text>
<rect x="23.60" y="157.40" width="134.90" height="73.80" fill="none" stroke="#4a4a4a" stroke-width="0.8"/>
<text x="22.30" y="161.96" font-size="4.8" text-anchor="end" fill="#444" stroke="#444" stroke-width="0.14">3.59</text>
<text x="22.30" y="171.16" font-size="4.8" text-anchor="end" fill="#444" stroke="#444" stroke-width="0.14">0</text>
<text x="22.30" y="178.76" font-size="4.8" text-anchor="end" fill="#444" stroke="#444" stroke-width="0.14">3.59</text>
<text x="22.30" y="188.96" font-size="4.8" text-anchor="end" fill="#444" stroke="#444" stroke-width="0.14">0</text>
<text x="22.30" y="195.06" font-size="4.8" text-anchor="end" fill="#444" stroke="#444" stroke-width="0.14">1.31</text>
<text x="22.30" y="204.76" font-size="4.8" text-anchor="end" fill="#444" stroke="#444" stroke-width="0.14">0</text>
<text x="22.30" y="210.86" font-size="4.8" text-anchor="end" fill="#444" stroke="#444" stroke-width="0.14">1.31</text>
<text x="22.30" y="220.16" font-size="4.8" text-anchor="end" fill="#444" stroke="#444" stroke-width="0.14">0</text>
<text transform="translate(8.0,171.9) rotate(-90)" text-anchor="middle" y="0" font-size="6.3" font-weight="bold" fill="#111" stroke="#111" stroke-width="0.12">GR</text>
<line x1="9.50" y1="166.90" x2="9.50" y2="177.10" stroke="#222" stroke-width="0.7"/>
<text transform="translate(8.5,197.75) rotate(-90)" text-anchor="middle" y="0" font-size="6.1" font-weight="bold" fill="#f0105a" stroke="#f0105a" stroke-width="0.3">FOXA1</text>
<line x1="9.80" y1="186.40" x2="9.80" y2="207.60" stroke="#f0105a" stroke-width="0.6"/>
<line x1="162.70" y1="164.80" x2="166.90" y2="164.80" stroke="#111" stroke-width="1.1"/>
<line x1="164.80" y1="162.70" x2="164.80" y2="166.90" stroke="#111" stroke-width="1.1"/>
<line x1="163.60" y1="184.30" x2="166.00" y2="184.30" stroke="#111" stroke-width="1.2"/>
<line x1="162.70" y1="198.40" x2="166.90" y2="198.40" stroke="#f0105a" stroke-width="1.1"/>
<line x1="164.80" y1="196.30" x2="164.80" y2="200.50" stroke="#f0105a" stroke-width="1.1"/>
<line x1="163.60" y1="213.30" x2="166.00" y2="213.30" stroke="#f0105a" stroke-width="1.2"/>
<line x1="348.60" y1="164.80" x2="352.80" y2="164.80" stroke="#111" stroke-width="1.1"/>
<line x1="350.70" y1="162.70" x2="350.70" y2="166.90" stroke="#111" stroke-width="1.1"/>
<line x1="349.50" y1="184.30" x2="351.90" y2="184.30" stroke="#111" stroke-width="1.2"/>
<line x1="348.60" y1="198.40" x2="352.80" y2="198.40" stroke="#f0105a" stroke-width="1.1"/>
<line x1="350.70" y1="196.30" x2="350.70" y2="200.50" stroke="#f0105a" stroke-width="1.1"/>
<line x1="349.50" y1="213.30" x2="351.90" y2="213.30" stroke="#f0105a" stroke-width="1.2"/>
<text x="168.95" y="149.21" font-size="4.95" font-weight="bold" text-anchor="middle" fill="#222" stroke="#222" stroke-width="0.14">100nmol/L Dex,</text>
<text x="168.00" y="154.44" font-size="4.75" font-weight="bold" text-anchor="middle" fill="#222" stroke="#222" stroke-width="0.14">30mins.</text>
<text x="347.95" y="149.21" font-size="4.95" font-weight="bold" text-anchor="middle" fill="#222" stroke="#222" stroke-width="0.14">100nmol/L Dex,</text>
<text x="349.95" y="154.44" font-size="4.75" font-weight="bold" text-anchor="middle" fill="#222" stroke="#222" stroke-width="0.14">30mins.</text>
<rect x="205.20" y="157.40" width="137.30" height="62.20" fill="#f6f6f6"/>
<rect x="205.20" y="219.60" width="137.30" height="11.80" fill="#fff"/>
<line x1="205.70" y1="172.65" x2="342.00" y2="172.65" stroke="#9a9a9a" stroke-width="0.45" stroke-dasharray="1.2,0.8"/>
<polygon points="206.00,172.40 206.00,172.31 206.45,172.31 206.45,172.15 206.90,172.15 206.90,172.15 207.35,172.15 207.35,172.15 207.80,172.15 207.80,172.33 208.25,172.33 208.25,172.25 208.70,172.25 208.70,172.15 209.15,172.15 209.15,172.15 209.60,172.15 209.60,172.40 210.05,172.40 210.05,172.40 210.50,172.40 210.50,172.40 210.95,172.40 210.95,172.40 211.40,172.40 211.40,172.40 211.85,172.40 211.85,172.40 212.30,172.40 212.30,172.40 212.75,172.40 212.75,172.40 213.20,172.40 213.20,172.40 213.65,172.40 213.65,172.40 214.10,172.40 214.10,172.40 214.55,172.40 214.55,172.40 215.00,172.40 215.00,172.40 215.45,172.40 215.45,172.40 215.90,172.40 215.90,172.40 216.35,172.40 216.35,172.40 216.80,172.40 216.80,172.40 217.25,172.40 217.25,172.40 217.70,172.40 217.70,172.40 218.15,172.40 218.15,172.40 218.60,172.40 218.60,172.40 219.05,172.40 219.05,172.40 219.50,172.40 219.50,172.40 219.95,172.40 219.95,172.40 220.40,172.40 220.40,172.40 220.85,172.40 220.85,172.15 221.30,172.15 221.30,172.15 221.75,172.15 221.75,172.15 222.20,172.15 222.20,172.15 222.65,172.15 222.65,172.15 223.10,172.15 223.10,172.15 223.55,172.15 223.55,172.15 224.00,172.15 224.00,172.15 224.45,172.15 224.45,172.15 224.90,172.15 224.90,172.15 225.35,172.15 225.35,172.15 225.80,172.15 225.80,172.15 226.25,172.15 226.25,172.15 226.70,172.15 226.70,172.15 227.15,172.15 227.15,172.15 227.60,172.15 227.60,172.15 228.05,172.15 228.05,171.85 228.50,171.85 228.50,171.72 228.95,171.72 228.95,171.44 229.40,171.44 229.40,171.40 229.85,171.40 229.85,171.17 230.30,171.17 230.30,171.17 230.75,171.17 230.75,171.10 231.20,171.10 231.20,170.85 231.65,170.85 231.65,171.05 232.10,171.05 232.10,170.91 232.55,170.91 232.55,171.04 233.00,171.04 233.00,171.20 233.45,171.20 233.45,171.43 233.90,171.43 233.90,171.50 234.35,171.50 234.35,171.56 234.80,171.56 234.80,171.76 235.25,171.76 235.25,171.93 235.70,171.93 235.70,172.02 236.15,172.02 236.15,172.15 236.60,172.15 236.60,172.15 237.05,172.15 237.05,172.15 237.50,172.15 237.50,172.15 237.95,172.15 237.95,172.15 238.40,172.15 238.40,172.15 238.85,172.15 238.85,172.15 239.30,172.15 239.30,172.20 239.75,172.20 239.75,172.15 240.20,172.15 240.20,172.15 240.65,172.15 240.65,172.40 241.10,172.40 241.10,172.40 241.55,172.40 241.55,172.40 242.00,172.40 242.00,172.40 242.45,172.40 242.45,172.40 242.90,172.40 242.90,172.40 243.35,172.40 243.35,172.40 243.80,172.40 243.80,172.40 244.25,172.40 244.25,172.40 244.70,172.40 244.70,172.40 245.15,172.40 245.15,172.40 245.60,172.40 245.60,172.40 246.05,172.40 246.05,172.15 246.50,172.15 246.50,172.15 246.95,172.15 246.95,172.15 247.40,172.15 247.40,172.15 247.85,172.15 247.85,172.15 248.30,172.15 248.30,172.15 248.75,172.15 248.75,172.15 249.20,172.15 249.20,172.39 249.65,172.39 249.65,172.35 250.10,172.35 250.10,172.26 250.55,172.26 250.55,171.97 251.00,171.97 251.00,171.90 251.45,171.90 251.45,171.73 251.90,171.73 251.90,171.60 252.35,171.60 252.35,171.69 252.80,171.69 252.80,171.86 253.25,171.86 253.25,172.01 253.70,172.01 253.70,172.02 254.15,172.02 254.15,172.16 254.60,172.16 254.60,172.15 255.05,172.15 255.05,172.15 255.50,172.15 255.50,172.15 255.95,172.15 255.95,172.15 256.40,172.15 256.40,172.15 256.85,172.15 256.85,172.15 257.30,172.15 257.30,172.15 257.75,172.15 257.75,172.15 258.20,172.15 258.20,172.40 258.65,172.40 258.65,172.40 259.10,172.40 259.10,172.39 259.55,172.39 259.55,172.38 260.00,172.38 260.00,172.34 260.45,172.34 260.45,172.25 260.90,172.25 260.90,172.15 261.35,172.15 261.35,171.78 261.80,171.78 261.80,171.43 262.25,171.43 262.25,171.09 262.70,171.09 262.70,171.10 263.15,171.10 263.15,170.85 263.60,170.85 263.60,171.18 264.05,171.18 264.05,171.37 264.50,171.37 264.50,171.67 264.95,171.67 264.95,172.05 265.40,172.05 265.40,172.20 265.85,172.20 265.85,172.32 266.30,172.32 266.30,172.37 266.75,172.37 266.75,172.39 267.20,172.39 267.20,172.37 267.65,172.37 267.65,172.24 268.10,172.24 268.10,172.00 268.55,172.00 268.55,171.52 269.00,171.52 269.00,171.10 269.45,171.10 269.45,170.96 269.90,170.96 269.90,171.21 270.35,171.21 270.35,171.74 270.80,171.74 270.80,172.06 271.25,172.06 271.25,172.29 271.70,172.29 271.70,172.38 272.15,172.38 272.15,172.15 272.60,172.15 272.60,172.27 273.05,172.27 273.05,172.29 273.50,172.29 273.50,172.25 273.95,172.25 273.95,172.26 274.40,172.26 274.40,172.12 274.85,172.12 274.85,172.05 275.30,172.05 275.30,172.00 275.75,172.00 275.75,171.99 276.20,171.99 276.20,172.38 276.65,172.38 276.65,172.34 277.10,172.34 277.10,172.24 277.55,172.24 277.55,172.08 278.00,172.08 278.00,171.79 278.45,171.79 278.45,171.56 278.90,171.56 278.90,171.40 279.35,171.40 279.35,171.46 279.80,171.46 279.80,171.70 280.25,171.70 280.25,171.83 280.70,171.83 280.70,171.90 281.15,171.90 281.15,171.96 281.60,171.96 281.60,172.16 282.05,172.16 282.05,171.98 282.50,171.98 282.50,171.90 282.95,171.90 282.95,171.77 283.40,171.77 283.40,172.40 283.85,172.40 283.85,172.40 284.30,172.40 284.30,172.15 284.75,172.15 284.75,172.15 285.20,172.15 285.20,172.15 285.65,172.15 285.65,172.15 286.10,172.15 286.10,172.40 286.55,172.40 286.55,172.40 287.00,172.40 287.00,172.40 287.45,172.40 287.45,172.40 287.90,172.40 287.90,172.40 288.35,172.40 288.35,172.40 288.80,172.40 288.80,172.40 289.25,172.40 289.25,172.40 289.70,172.40 289.70,172.40 290.15,172.40 290.15,172.40 290.60,172.40 290.60,172.40 291.05,172.40 291.05,172.40 291.50,172.40 291.50,172.40 291.95,172.40 291.95,172.40 292.40,172.40 292.40,172.40 292.85,172.40 292.85,172.40 293.30,172.40 293.30,172.40 293.75,172.40 293.75,172.40 294.20,172.40 294.20,172.40 294.65,172.40 294.65,172.40 295.10,172.40 295.10,172.40 295.55,172.40 295.55,172.40 296.00,172.40 296.00,172.40 296.45,172.40 296.45,172.40 296.90,172.40 296.90,172.40 297.35,172.40 297.35,172.40 297.80,172.40 297.80,172.40 298.25,172.40 298.25,172.40 298.70,172.40 298.70,172.39 299.15,172.39 299.15,172.25 299.60,172.25 299.60,172.24 300.05,172.24 300.05,172.00 300.50,172.00 300.50,171.36 300.95,171.36 300.95,170.50 301.40,170.50 301.40,169.26 301.85,169.26 301.85,168.27 302.30,168.27 302.30,168.34 302.75,168.34 302.75,168.02 303.20,168.02 303.20,167.07 303.65,167.07 303.65,165.13 304.10,165.13 304.10,165.19 304.55,165.19 304.55,164.44 305.00,164.44 305.00,166.40 305.45,166.40 305.45,161.00 305.90,161.00 305.90,161.00 306.35,161.00 306.35,166.64 306.80,166.64 306.80,164.38 307.25,164.38 307.25,164.18 307.70,164.18 307.70,164.57 308.15,164.57 308.15,164.39 308.60,164.39 308.60,166.98 309.05,166.98 309.05,167.25 309.50,167.25 309.50,166.58 309.95,166.58 309.95,164.57 310.40,164.57 310.40,164.89 310.85,164.89 310.85,164.11 311.30,164.11 311.30,165.74 311.75,165.74 311.75,167.12 312.20,167.12 312.20,167.18 312.65,167.18 312.65,165.82 313.10,165.82 313.10,164.96 313.55,164.96 313.55,163.75 314.00,163.75 314.00,164.71 314.45,164.71 314.45,165.81 314.90,165.81 314.90,167.53 315.35,167.53 315.35,166.56 315.80,166.56 315.80,166.52 316.25,166.52 316.25,165.98 316.70,165.98 316.70,167.51 317.15,167.51 317.15,169.35 317.60,169.35 317.60,169.55 318.05,169.55 318.05,169.49 318.50,169.49 318.50,169.72 318.95,169.72 318.95,170.63 319.40,170.63 319.40,171.61 319.85,171.61 319.85,172.02 320.30,172.02 320.30,172.26 320.75,172.26 320.75,172.36 321.20,172.36 321.20,172.39 321.65,172.39 321.65,172.38 322.10,172.38 322.10,172.15 322.55,172.15 322.55,172.15 323.00,172.15 323.00,172.15 323.45,172.15 323.45,171.77 323.90,171.77 323.90,171.64 324.35,171.64 324.35,171.50 324.80,171.50 324.80,171.45 325.25,171.45 325.25,171.67 325.70,171.67 325.70,171.91 326.15,171.91 326.15,172.14 326.60,172.14 326.60,172.30 327.05,172.30 327.05,172.36 327.50,172.36 327.50,172.39 327.95,172.39 327.95,172.39 328.40,172.39 328.40,172.15 328.85,172.15 328.85,172.22 329.30,172.22 329.30,172.17 329.75,172.17 329.75,171.91 330.20,171.91 330.20,171.63 330.65,171.63 330.65,171.50 331.10,171.50 331.10,171.42 331.55,171.42 331.55,171.56 332.00,171.56 332.00,171.81 332.45,171.81 332.45,172.08 332.90,172.08 332.90,172.23 333.35,172.23 333.35,172.34 333.80,172.34 333.80,172.38 334.25,172.38 334.25,172.40 334.70,172.40 334.70,172.40 335.15,172.40 335.15,172.40 335.60,172.40 335.60,172.40 336.05,172.40 336.05,172.40 336.50,172.40 336.50,172.40 336.95,172.40 336.95,172.40 337.40,172.40 337.40,172.40 337.85,172.40 337.85,172.40 338.30,172.40 338.30,172.40 338.75,172.40 338.75,172.40 339.20,172.40 339.20,172.40 339.65,172.40 339.65,172.40 340.10,172.40 340.10,172.40 340.55,172.40 340.55,172.40 341.00,172.40 341.00,172.16 341.45,172.16 341.45,172.25 341.90,172.25 341.70,172.40" fill="#111"/>
<line x1="205.70" y1="188.05" x2="342.00" y2="188.05" stroke="#9a9a9a" stroke-width="0.45" stroke-dasharray="1.2,0.8"/>
<polygon points="206.00,187.80 206.00,187.80 206.45,187.80 206.45,187.79 206.90,187.79 206.90,187.78 207.35,187.78 207.35,187.75 207.80,187.75 207.80,187.69 208.25,187.69 208.25,187.60 208.70,187.60 208.70,187.47 209.15,187.47 209.15,187.35 209.60,187.35 209.60,187.20 210.05,187.20 210.05,187.01 210.50,187.01 210.50,186.84 210.95,186.84 210.95,186.91 211.40,186.91 211.40,186.92 211.85,186.92 211.85,187.04 212.30,187.04 212.30,187.09 212.75,187.09 212.75,187.26 213.20,187.26 213.20,187.50 213.65,187.50 213.65,187.57 214.10,187.57 214.10,187.69 214.55,187.69 214.55,187.75 215.00,187.75 215.00,187.77 215.45,187.77 215.45,187.79 215.90,187.79 215.90,187.80 216.35,187.80 216.35,187.80 216.80,187.80 216.80,187.80 217.25,187.80 217.25,187.80 217.70,187.80 217.70,187.80 218.15,187.80 218.15,187.55 218.60,187.55 218.60,187.55 219.05,187.55 219.05,187.55 219.50,187.55 219.50,187.55 219.95,187.55 219.95,187.55 220.40,187.55 220.40,187.58 220.85,187.58 220.85,187.57 221.30,187.57 221.30,187.55 221.75,187.55 221.75,187.55 222.20,187.55 222.20,187.55 222.65,187.55 222.65,187.56 223.10,187.56 223.10,187.56 223.55,187.56 223.55,187.55 224.00,187.55 224.00,187.61 224.45,187.61 224.45,187.63 224.90,187.63 224.90,187.67 225.35,187.67 225.35,187.67 225.80,187.67 225.80,187.62 226.25,187.62 226.25,187.46 226.70,187.46 226.70,187.44 227.15,187.44 227.15,187.56 227.60,187.56 227.60,187.53 228.05,187.53 228.05,187.29 228.50,187.29 228.50,187.05 228.95,187.05 228.95,187.02 229.40,187.02 229.40,187.09 229.85,187.09 229.85,187.26 230.30,187.26 230.30,187.49 230.75,187.49 230.75,187.62 231.20,187.62 231.20,187.73 231.65,187.73 231.65,187.60 232.10,187.60 232.10,187.58 232.55,187.58 232.55,187.55 233.00,187.55 233.00,187.55 233.45,187.55 233.45,187.55 233.90,187.55 233.90,187.80 234.35,187.80 234.35,187.80 234.80,187.80 234.80,187.80 235.25,187.80 235.25,187.80 235.70,187.80 235.70,187.80 236.15,187.80 236.15,187.55 236.60,187.55 236.60,187.57 237.05,187.57 237.05,187.55 237.50,187.55 237.50,187.55 237.95,187.55 237.95,187.55 238.40,187.55 238.40,187.55 238.85,187.55 238.85,187.55 239.30,187.55 239.30,187.61 239.75,187.61 239.75,187.55 240.20,187.55 240.20,187.59 240.65,187.59 240.65,187.59 241.10,187.59 241.10,187.60 241.55,187.60 241.55,187.55 242.00,187.55 242.00,187.55 242.45,187.55 242.45,187.55 242.90,187.55 242.90,187.55 243.35,187.55 243.35,187.55 243.80,187.55 243.80,187.55 244.25,187.55 244.25,187.55 244.70,187.55 244.70,187.55 245.15,187.55 245.15,187.55 245.60,187.55 245.60,187.55 246.05,187.55 246.05,187.55 246.50,187.55 246.50,187.55 246.95,187.55 246.95,187.80 247.40,187.80 247.40,187.80 247.85,187.80 247.85,187.80 248.30,187.80 248.30,187.80 248.75,187.80 248.75,187.80 249.20,187.80 249.20,187.80 249.65,187.80 249.65,187.80 250.10,187.80 250.10,187.80 250.55,187.80 250.55,187.80 251.00,187.80 251.00,187.80 251.45,187.80 251.45,187.80 251.90,187.80 251.90,187.80 252.35,187.80 252.35,187.80 252.80,187.80 252.80,187.80 253.25,187.80 253.25,187.80 253.70,187.80 253.70,187.80 254.15,187.80 254.15,187.80 254.60,187.80 254.60,187.80 255.05,187.80 255.05,187.80 255.50,187.80 255.50,187.80 255.95,187.80 255.95,187.80 256.40,187.80 256.40,187.80 256.85,187.80 256.85,187.80 257.30,187.80 257.30,187.80 257.75,187.80 257.75,187.80 258.20,187.80 258.20,187.80 258.65,187.80 258.65,187.55 259.10,187.55 259.10,187.55 259.55,187.55 259.55,187.55 260.00,187.55 260.00,187.74 260.45,187.74 260.45,187.63 260.90,187.63 260.90,187.48 261.35,187.48 261.35,187.25 261.80,187.25 261.80,186.83 262.25,186.83 262.25,186.66 262.70,186.66 262.70,186.47 263.15,186.47 263.15,186.47 263.60,186.47 263.60,186.59 264.05,186.59 264.05,186.79 264.50,186.79 264.50,187.17 264.95,187.17 264.95,187.43 265.40,187.43 265.40,187.61 265.85,187.61 265.85,187.33 266.30,187.33 266.30,187.46 266.75,187.46 266.75,187.63 267.20,187.63 267.20,187.60 267.65,187.60 267.65,187.55 268.10,187.55 268.10,187.55 268.55,187.55 268.55,187.55 269.00,187.55 269.00,187.55 269.45,187.55 269.45,187.55 269.90,187.55 269.90,187.55 270.35,187.55 270.35,187.55 270.80,187.55 270.80,187.55 271.25,187.55 271.25,187.55 271.70,187.55 271.70,187.55 272.15,187.55 272.15,187.55 272.60,187.55 272.60,187.80 273.05,187.80 273.05,187.80 273.50,187.80 273.50,187.80 273.95,187.80 273.95,187.80 274.40,187.80 274.40,187.67 274.85,187.67 274.85,187.56 275.30,187.56 275.30,187.55 275.75,187.55 275.75,187.55 276.20,187.55 276.20,187.55 276.65,187.55 276.65,187.55 277.10,187.55 277.10,187.55 277.55,187.55 277.55,187.55 278.00,187.55 278.00,187.55 278.45,187.55 278.45,187.55 278.90,187.55 278.90,187.58 279.35,187.58 279.35,187.59 279.80,187.59 279.80,187.55 280.25,187.55 280.25,187.55 280.70,187.55 280.70,187.55 281.15,187.55 281.15,187.58 281.60,187.58 281.60,187.68 282.05,187.68 282.05,187.63 282.50,187.63 282.50,187.57 282.95,187.57 282.95,187.55 283.40,187.55 283.40,187.55 283.85,187.55 283.85,187.55 284.30,187.55 284.30,187.55 284.75,187.55 284.75,187.55 285.20,187.55 285.20,187.55 285.65,187.55 285.65,187.55 286.10,187.55 286.10,187.70 286.55,187.70 286.55,187.55 287.00,187.55 287.00,187.57 287.45,187.57 287.45,187.80 287.90,187.80 287.90,187.80 288.35,187.80 288.35,187.80 288.80,187.80 288.80,187.80 289.25,187.80 289.25,187.80 289.70,187.80 289.70,187.80 290.15,187.80 290.15,187.80 290.60,187.80 290.60,187.80 291.05,187.80 291.05,187.80 291.50,187.80 291.50,187.80 291.95,187.80 291.95,187.80 292.40,187.80 292.40,187.80 292.85,187.80 292.85,187.80 293.30,187.80 293.30,187.80 293.75,187.80 293.75,187.80 294.20,187.80 294.20,187.80 294.65,187.80 294.65,187.80 295.10,187.80 295.10,187.80 295.55,187.80 295.55,187.80 296.00,187.80 296.00,187.80 296.45,187.80 296.45,187.80 296.90,187.80 296.90,187.80 297.35,187.80 297.35,187.80 297.80,187.80 297.80,187.80 298.25,187.80 298.25,187.79 298.70,187.79 298.70,187.78 299.15,187.78 299.15,187.74 299.60,187.74 299.60,187.69 300.05,187.69 300.05,187.57 300.50,187.57 300.50,187.46 300.95,187.46 300.95,187.17 301.40,187.17 301.40,187.01 301.85,187.01 301.85,186.79 302.30,186.79 302.30,186.58 302.75,186.58 302.75,186.39 303.20,186.39 303.20,186.48 303.65,186.48 303.65,186.48 304.10,186.48 304.10,186.66 304.55,186.66 304.55,186.92 305.00,186.92 305.00,187.15 305.45,187.15 305.45,187.38 305.90,187.38 305.90,187.54 306.35,187.54 306.35,187.55 306.80,187.55 306.80,187.55 307.25,187.55 307.25,187.55 307.70,187.55 307.70,187.55 308.15,187.55 308.15,187.55 308.60,187.55 308.60,187.55 309.05,187.55 309.05,187.55 309.50,187.55 309.50,187.80 309.95,187.80 309.95,187.80 310.40,187.80 310.40,187.80 310.85,187.80 310.85,187.55 311.30,187.55 311.30,187.39 311.75,187.39 311.75,187.44 312.20,187.44 312.20,187.49 312.65,187.49 312.65,187.24 313.10,187.24 313.10,186.77 313.55,186.77 313.55,186.44 314.00,186.44 314.00,186.43 314.45,186.43 314.45,186.49 314.90,186.49 314.90,186.83 315.35,186.83 315.35,187.24 315.80,187.24 315.80,187.50 316.25,187.50 316.25,187.69 316.70,187.69 316.70,187.76 317.15,187.76 317.15,187.79 317.60,187.79 317.60,187.80 318.05,187.80 318.05,187.80 318.50,187.80 318.50,187.80 318.95,187.80 318.95,187.80 319.40,187.80 319.40,187.79 319.85,187.79 319.85,187.76 320.30,187.76 320.30,187.69 320.75,187.69 320.75,187.53 321.20,187.53 321.20,187.33 321.65,187.33 321.65,187.06 322.10,187.06 322.10,186.63 322.55,186.63 322.55,186.55 323.00,186.55 323.00,186.73 323.45,186.73 323.45,187.05 323.90,187.05 323.90,187.34 324.35,187.34 324.35,187.45 324.80,187.45 324.80,187.38 325.25,187.38 325.25,187.40 325.70,187.40 325.70,187.53 326.15,187.53 326.15,187.60 326.60,187.60 326.60,187.63 327.05,187.63 327.05,187.55 327.50,187.55 327.50,187.55 327.95,187.55 327.95,187.55 328.40,187.55 328.40,187.80 328.85,187.80 328.85,187.80 329.30,187.80 329.30,187.80 329.75,187.80 329.75,187.80 330.20,187.80 330.20,187.80 330.65,187.80 330.65,187.80 331.10,187.80 331.10,187.80 331.55,187.80 331.55,187.80 332.00,187.80 332.00,187.55 332.45,187.55 332.45,187.56 332.90,187.56 332.90,187.55 333.35,187.55 333.35,187.55 333.80,187.55 333.80,187.55 334.25,187.55 334.25,187.55 334.70,187.55 334.70,187.55 335.15,187.55 335.15,187.55 335.60,187.55 335.60,187.55 336.05,187.55 336.05,187.55 336.50,187.55 336.50,187.66 336.95,187.66 336.95,187.64 337.40,187.64 337.40,187.55 337.85,187.55 337.85,187.56 338.30,187.56 338.30,187.80 338.75,187.80 338.75,187.80 339.20,187.80 339.20,187.80 339.65,187.80 339.65,187.80 340.10,187.80 340.10,187.57 340.55,187.57 340.55,187.55 341.00,187.55 341.00,187.55 341.45,187.55 341.45,187.55 341.90,187.55 341.70,187.80" fill="#111"/>
<line x1="205.70" y1="203.05" x2="342.00" y2="203.05" stroke="#9a9a9a" stroke-width="0.45" stroke-dasharray="1.2,0.8"/>
<polygon points="206.00,202.80 206.00,201.98 206.45,201.98 206.45,201.54 206.90,201.54 206.90,201.68 207.35,201.68 207.35,202.09 207.80,202.09 207.80,202.13 208.25,202.13 208.25,202.19 208.70,202.19 208.70,202.10 209.15,202.10 209.15,202.14 209.60,202.14 209.60,202.00 210.05,202.00 210.05,202.22 210.50,202.22 210.50,202.07 210.95,202.07 210.95,201.80 211.40,201.80 211.40,201.63 211.85,201.63 211.85,201.80 212.30,201.80 212.30,201.75 212.75,201.75 212.75,201.44 213.20,201.44 213.20,201.41 213.65,201.41 213.65,200.90 214.10,200.90 214.10,200.57 214.55,200.57 214.55,200.58 215.00,200.58 215.00,200.28 215.45,200.28 215.45,200.60 215.90,200.60 215.90,200.56 216.35,200.56 216.35,200.78 216.80,200.78 216.80,201.37 217.25,201.37 217.25,201.77 217.70,201.77 217.70,202.07 218.15,202.07 218.15,201.88 218.60,201.88 218.60,201.87 219.05,201.87 219.05,202.55 219.50,202.55 219.50,202.55 219.95,202.55 219.95,202.55 220.40,202.55 220.40,202.55 220.85,202.55 220.85,202.55 221.30,202.55 221.30,202.55 221.75,202.55 221.75,202.55 222.20,202.55 222.20,202.03 222.65,202.03 222.65,201.98 223.10,201.98 223.10,202.14 223.55,202.14 223.55,202.07 224.00,202.07 224.00,201.72 224.45,201.72 224.45,201.66 224.90,201.66 224.90,201.68 225.35,201.68 225.35,202.02 225.80,202.02 225.80,202.61 226.25,202.61 226.25,202.52 226.70,202.52 226.70,202.40 227.15,202.40 227.15,202.11 227.60,202.11 227.60,201.82 228.05,201.82 228.05,201.70 228.50,201.70 228.50,201.11 228.95,201.11 228.95,200.88 229.40,200.88 229.40,200.72 229.85,200.72 229.85,200.48 230.30,200.48 230.30,200.29 230.75,200.29 230.75,200.03 231.20,200.03 231.20,199.78 231.65,199.78 231.65,200.21 232.10,200.21 232.10,200.22 232.55,200.22 232.55,200.73 233.00,200.73 233.00,200.67 233.45,200.67 233.45,201.26 233.90,201.26 233.90,201.54 234.35,201.54 234.35,201.80 234.80,201.80 234.80,201.78 235.25,201.78 235.25,201.77 235.70,201.77 235.70,201.87 236.15,201.87 236.15,201.85 236.60,201.85 236.60,201.86 237.05,201.86 237.05,202.01 237.50,202.01 237.50,202.17 237.95,202.17 237.95,201.82 238.40,201.82 238.40,201.68 238.85,201.68 238.85,202.01 239.30,202.01 239.30,202.55 239.75,202.55 239.75,202.55 240.20,202.55 240.20,202.55 240.65,202.55 240.65,202.55 241.10,202.55 241.10,202.55 241.55,202.55 241.55,202.55 242.00,202.55 242.00,202.55 242.45,202.55 242.45,202.55 242.90,202.55 242.90,202.55 243.35,202.55 243.35,202.55 243.80,202.55 243.80,202.55 244.25,202.55 244.25,202.55 244.70,202.55 244.70,202.55 245.15,202.55 245.15,202.55 245.60,202.55 245.60,202.55 246.05,202.55 246.05,201.59 246.50,201.59 246.50,201.78 246.95,201.78 246.95,202.07 247.40,202.07 247.40,202.16 247.85,202.16 247.85,202.17 248.30,202.17 248.30,202.21 248.75,202.21 248.75,202.52 249.20,202.52 249.20,202.53 249.65,202.53 249.65,202.04 250.10,202.04 250.10,201.83 250.55,201.83 250.55,201.70 251.00,201.70 251.00,201.87 251.45,201.87 251.45,201.98 251.90,201.98 251.90,202.18 252.35,202.18 252.35,202.50 252.80,202.50 252.80,202.56 253.25,202.56 253.25,202.43 253.70,202.43 253.70,202.06 254.15,202.06 254.15,202.55 254.60,202.55 254.60,202.55 255.05,202.55 255.05,202.55 255.50,202.55 255.50,202.55 255.95,202.55 255.95,202.80 256.40,202.80 256.40,202.80 256.85,202.80 256.85,202.55 257.30,202.55 257.30,202.55 257.75,202.55 257.75,202.55 258.20,202.55 258.20,202.55 258.65,202.55 258.65,202.55 259.10,202.55 259.10,201.82 259.55,201.82 259.55,201.97 260.00,201.97 260.00,202.05 260.45,202.05 260.45,201.85 260.90,201.85 260.90,201.99 261.35,201.99 261.35,202.05 261.80,202.05 261.80,202.18 262.25,202.18 262.25,201.93 262.70,201.93 262.70,201.62 263.15,201.62 263.15,201.69 263.60,201.69 263.60,201.98 264.05,201.98 264.05,202.18 264.50,202.18 264.50,202.12 264.95,202.12 264.95,202.13 265.40,202.13 265.40,201.97 265.85,201.97 265.85,201.64 266.30,201.64 266.30,201.47 266.75,201.47 266.75,201.04 267.20,201.04 267.20,200.98 267.65,200.98 267.65,200.85 268.10,200.85 268.10,200.57 268.55,200.57 268.55,200.40 269.00,200.40 269.00,200.12 269.45,200.12 269.45,200.26 269.90,200.26 269.90,200.65 270.35,200.65 270.35,200.50 270.80,200.50 270.80,201.07 271.25,201.07 271.25,201.27 271.70,201.27 271.70,201.38 272.15,201.38 272.15,201.69 272.60,201.69 272.60,201.89 273.05,201.89 273.05,201.96 273.50,201.96 273.50,201.73 273.95,201.73 273.95,201.62 274.40,201.62 274.40,201.51 274.85,201.51 274.85,201.78 275.30,201.78 275.30,202.17 275.75,202.17 275.75,202.62 276.20,202.62 276.20,202.76 276.65,202.76 276.65,202.78 277.10,202.78 277.10,202.79 277.55,202.79 277.55,202.79 278.00,202.79 278.00,202.55 278.45,202.55 278.45,202.55 278.90,202.55 278.90,202.55 279.35,202.55 279.35,202.57 279.80,202.57 279.80,202.55 280.25,202.55 280.25,202.55 280.70,202.55 280.70,202.55 281.15,202.55 281.15,202.55 281.60,202.55 281.60,202.55 282.05,202.55 282.05,202.55 282.50,202.55 282.50,202.55 282.95,202.55 282.95,202.55 283.40,202.55 283.40,202.14 283.85,202.14 283.85,202.17 284.30,202.17 284.30,201.96 284.75,201.96 284.75,201.91 285.20,201.91 285.20,201.59 285.65,201.59 285.65,201.90 286.10,201.90 286.10,202.11 286.55,202.11 286.55,202.19 287.00,202.19 287.00,202.08 287.45,202.08 287.45,201.67 287.90,201.67 287.90,201.60 288.35,201.60 288.35,201.73 288.80,201.73 288.80,202.21 289.25,202.21 289.25,202.45 289.70,202.45 289.70,202.10 290.15,202.10 290.15,201.82 290.60,201.82 290.60,201.89 291.05,201.89 291.05,202.32 291.50,202.32 291.50,202.37 291.95,202.37 291.95,201.97 292.40,201.97 292.40,201.66 292.85,201.66 292.85,201.41 293.30,201.41 293.30,201.67 293.75,201.67 293.75,201.43 294.20,201.43 294.20,201.69 294.65,201.69 294.65,201.50 295.10,201.50 295.10,201.90 295.55,201.90 295.55,202.14 296.00,202.14 296.00,202.20 296.45,202.20 296.45,202.29 296.90,202.29 296.90,201.87 297.35,201.87 297.35,201.75 297.80,201.75 297.80,201.62 298.25,201.62 298.25,201.88 298.70,201.88 298.70,201.57 299.15,201.57 299.15,201.10 299.60,201.10 299.60,201.04 300.05,201.04 300.05,200.91 300.50,200.91 300.50,201.01 300.95,201.01 300.95,201.30 301.40,201.30 301.40,201.41 301.85,201.41 301.85,201.86 302.30,201.86 302.30,201.28 302.75,201.28 302.75,200.87 303.20,200.87 303.20,200.61 303.65,200.61 303.65,200.32 304.10,200.32 304.10,199.96 304.55,199.96 304.55,199.56 305.00,199.56 305.00,199.16 305.45,199.16 305.45,199.45 305.90,199.45 305.90,199.40 306.35,199.40 306.35,200.23 306.80,200.23 306.80,200.15 307.25,200.15 307.25,199.28 307.70,199.28 307.70,199.18 308.15,199.18 308.15,198.70 308.60,198.70 308.60,197.61 309.05,197.61 309.05,197.78 309.50,197.78 309.50,197.88 309.95,197.88 309.95,198.14 310.40,198.14 310.40,198.54 310.85,198.54 310.85,196.83 311.30,196.83 311.30,196.04 311.75,196.04 311.75,196.85 312.20,196.85 312.20,197.50 312.65,197.50 312.65,198.42 313.10,198.42 313.10,191.30 313.55,191.30 313.55,201.13 314.00,201.13 314.00,200.31 314.45,200.31 314.45,198.74 314.90,198.74 314.90,197.85 315.35,197.85 315.35,197.55 315.80,197.55 315.80,197.50 316.25,197.50 316.25,198.35 316.70,198.35 316.70,199.28 317.15,199.28 317.15,199.99 317.60,199.99 317.60,199.95 318.05,199.95 318.05,200.04 318.50,200.04 318.50,200.96 318.95,200.96 318.95,201.70 319.40,201.70 319.40,202.21 319.85,202.21 319.85,201.93 320.30,201.93 320.30,202.55 320.75,202.55 320.75,202.55 321.20,202.55 321.20,202.55 321.65,202.55 321.65,202.55 322.10,202.55 322.10,202.55 322.55,202.55 322.55,202.46 323.00,202.46 323.00,202.55 323.45,202.55 323.45,202.38 323.90,202.38 323.90,202.11 324.35,202.11 324.35,201.76 324.80,201.76 324.80,201.24 325.25,201.24 325.25,200.96 325.70,200.96 325.70,201.01 326.15,201.01 326.15,200.76 326.60,200.76 326.60,201.12 327.05,201.12 327.05,201.15 327.50,201.15 327.50,201.62 327.95,201.62 327.95,201.98 328.40,201.98 328.40,202.29 328.85,202.29 328.85,202.45 329.30,202.45 329.30,201.98 329.75,201.98 329.75,202.04 330.20,202.04 330.20,202.05 330.65,202.05 330.65,201.99 331.10,201.99 331.10,202.55 331.55,202.55 331.55,202.55 332.00,202.55 332.00,202.80 332.45,202.80 332.45,202.80 332.90,202.80 332.90,202.80 333.35,202.80 333.35,202.80 333.80,202.80 333.80,202.80 334.25,202.80 334.25,202.80 334.70,202.80 334.70,202.80 335.15,202.80 335.15,202.80 335.60,202.80 335.60,202.80 336.05,202.80 336.05,202.80 336.50,202.80 336.50,202.03 336.95,202.03 336.95,201.88 337.40,201.88 337.40,201.92 337.85,201.92 337.85,201.65 338.30,201.65 338.30,201.75 338.75,201.75 338.75,201.65 339.20,201.65 339.20,201.47 339.65,201.47 339.65,201.53 340.10,201.53 340.10,201.12 340.55,201.12 340.55,200.91 341.00,200.91 341.00,201.22 341.45,201.22 341.45,201.56 341.90,201.56 341.70,202.80" fill="#f0105a"/>
<line x1="205.70" y1="218.85" x2="342.00" y2="218.85" stroke="#9a9a9a" stroke-width="0.45" stroke-dasharray="1.2,0.8"/>
<polygon points="206.00,218.60 206.00,217.67 206.45,217.67 206.45,217.10 206.90,217.10 206.90,216.83 207.35,216.83 207.35,216.02 207.80,216.02 207.80,216.28 208.25,216.28 208.25,216.99 208.70,216.99 208.70,217.44 209.15,217.44 209.15,217.78 209.60,217.78 209.60,218.13 210.05,218.13 210.05,218.13 210.50,218.13 210.50,218.00 210.95,218.00 210.95,217.81 211.40,217.81 211.40,217.49 211.85,217.49 211.85,217.39 212.30,217.39 212.30,217.65 212.75,217.65 212.75,217.78 213.20,217.78 213.20,218.35 213.65,218.35 213.65,218.35 214.10,218.35 214.10,218.35 214.55,218.35 214.55,218.35 215.00,218.35 215.00,218.35 215.45,218.35 215.45,218.35 215.90,218.35 215.90,218.35 216.35,218.35 216.35,218.35 216.80,218.35 216.80,218.35 217.25,218.35 217.25,218.35 217.70,218.35 217.70,218.35 218.15,218.35 218.15,217.36 218.60,217.36 218.60,217.76 219.05,217.76 219.05,217.85 219.50,217.85 219.50,217.74 219.95,217.74 219.95,217.40 220.40,217.40 220.40,217.37 220.85,217.37 220.85,217.40 221.30,217.40 221.30,217.59 221.75,217.59 221.75,217.41 222.20,217.41 222.20,217.49 222.65,217.49 222.65,217.29 223.10,217.29 223.10,216.86 223.55,216.86 223.55,216.13 224.00,216.13 224.00,215.32 224.45,215.32 224.45,215.31 224.90,215.31 224.90,215.39 225.35,215.39 225.35,216.09 225.80,216.09 225.80,216.55 226.25,216.55 226.25,217.33 226.70,217.33 226.70,217.53 227.15,217.53 227.15,217.42 227.60,217.42 227.60,218.48 228.05,218.48 228.05,218.56 228.50,218.56 228.50,218.59 228.95,218.59 228.95,218.60 229.40,218.60 229.40,218.60 229.85,218.60 229.85,218.60 230.30,218.60 230.30,218.60 230.75,218.60 230.75,218.60 231.20,218.60 231.20,218.35 231.65,218.35 231.65,218.35 232.10,218.35 232.10,218.35 232.55,218.35 232.55,218.35 233.00,218.35 233.00,218.35 233.45,218.35 233.45,217.73 233.90,217.73 233.90,218.02 234.35,218.02 234.35,217.98 234.80,217.98 234.80,217.88 235.25,217.88 235.25,217.65 235.70,217.65 235.70,218.04 236.15,218.04 236.15,217.87 236.60,217.87 236.60,217.39 237.05,217.39 237.05,216.93 237.50,216.93 237.50,216.36 237.95,216.36 237.95,216.56 238.40,216.56 238.40,216.99 238.85,216.99 238.85,217.57 239.30,217.57 239.30,217.52 239.75,217.52 239.75,217.23 240.20,217.23 240.20,217.50 240.65,217.50 240.65,217.61 241.10,217.61 241.10,217.51 241.55,217.51 241.55,217.41 242.00,217.41 242.00,217.80 242.45,217.80 242.45,218.15 242.90,218.15 242.90,218.04 243.35,218.04 243.35,218.35 243.80,218.35 243.80,218.35 244.25,218.35 244.25,218.35 244.70,218.35 244.70,218.35 245.15,218.35 245.15,218.35 245.60,218.35 245.60,218.35 246.05,218.35 246.05,218.35 246.50,218.35 246.50,218.35 246.95,218.35 246.95,218.35 247.40,218.35 247.40,218.35 247.85,218.35 247.85,218.35 248.30,218.35 248.30,218.35 248.75,218.35 248.75,218.35 249.20,218.35 249.20,218.35 249.65,218.35 249.65,218.35 250.10,218.35 250.10,218.35 250.55,218.35 250.55,218.35 251.00,218.35 251.00,218.35 251.45,218.35 251.45,218.35 251.90,218.35 251.90,218.35 252.35,218.35 252.35,218.35 252.80,218.35 252.80,218.35 253.25,218.35 253.25,218.35 253.70,218.35 253.70,218.35 254.15,218.35 254.15,218.35 254.60,218.35 254.60,218.35 255.05,218.35 255.05,218.35 255.50,218.35 255.50,218.35 255.95,218.35 255.95,218.35 256.40,218.35 256.40,217.81 256.85,217.81 256.85,217.97 257.30,217.97 257.30,218.60 257.75,218.60 257.75,218.60 258.20,218.60 258.20,218.60 258.65,218.60 258.65,218.60 259.10,218.60 259.10,218.60 259.55,218.60 259.55,218.59 260.00,218.59 260.00,218.53 260.45,218.53 260.45,217.85 260.90,217.85 260.90,216.85 261.35,216.85 261.35,215.06 261.80,215.06 261.80,214.75 262.25,214.75 262.25,216.03 262.70,216.03 262.70,217.54 263.15,217.54 263.15,217.63 263.60,217.63 263.60,217.93 264.05,217.93 264.05,217.63 264.50,217.63 264.50,217.81 264.95,217.81 264.95,217.48 265.40,217.48 265.40,217.53 265.85,217.53 265.85,218.60 266.30,218.60 266.30,218.60 266.75,218.60 266.75,218.60 267.20,218.60 267.20,218.60 267.65,218.60 267.65,218.60 268.10,218.60 268.10,218.60 268.55,218.60 268.55,218.35 269.00,218.35 269.00,218.35 269.45,218.35 269.45,218.35 269.90,218.35 269.90,218.35 270.35,218.35 270.35,218.35 270.80,218.35 270.80,218.35 271.25,218.35 271.25,218.35 271.70,218.35 271.70,218.35 272.15,218.35 272.15,218.35 272.60,218.35 272.60,218.35 273.05,218.35 273.05,218.35 273.50,218.35 273.50,218.35 273.95,218.35 273.95,218.35 274.40,218.35 274.40,217.82 274.85,217.82 274.85,217.96 275.30,217.96 275.30,217.95 275.75,217.95 275.75,218.22 276.20,218.22 276.20,218.22 276.65,218.22 276.65,217.84 277.10,217.84 277.10,217.84 277.55,217.84 277.55,217.62 278.00,217.62 278.00,218.02 278.45,218.02 278.45,217.65 278.90,217.65 278.90,216.43 279.35,216.43 279.35,214.40 279.80,214.40 279.80,213.97 280.25,213.97 280.25,215.52 280.70,215.52 280.70,216.87 281.15,216.87 281.15,218.04 281.60,218.04 281.60,218.50 282.05,218.50 282.05,217.44 282.50,217.44 282.50,217.56 282.95,217.56 282.95,217.70 283.40,217.70 283.40,217.31 283.85,217.31 283.85,217.39 284.30,217.39 284.30,217.38 284.75,217.38 284.75,217.74 285.20,217.74 285.20,218.35 285.65,218.35 285.65,218.35 286.10,218.35 286.10,218.35 286.55,218.35 286.55,218.35 287.00,218.35 287.00,218.35 287.45,218.35 287.45,218.35 287.90,218.35 287.90,218.35 288.35,218.35 288.35,218.35 288.80,218.35 288.80,218.35 289.25,218.35 289.25,218.35 289.70,218.35 289.70,218.35 290.15,218.35 290.15,218.35 290.60,218.35 290.60,218.35 291.05,218.35 291.05,218.35 291.50,218.35 291.50,218.35 291.95,218.35 291.95,218.37 292.40,218.37 292.40,218.35 292.85,218.35 292.85,218.35 293.30,218.35 293.30,217.58 293.75,217.58 293.75,217.88 294.20,217.88 294.20,218.09 294.65,218.09 294.65,218.08 295.10,218.08 295.10,217.93 295.55,217.93 295.55,217.82 296.00,217.82 296.00,217.73 296.45,217.73 296.45,217.82 296.90,217.82 296.90,217.09 297.35,217.09 297.35,216.77 297.80,216.77 297.80,216.75 298.25,216.75 298.25,217.25 298.70,217.25 298.70,217.37 299.15,217.37 299.15,217.22 299.60,217.22 299.60,217.69 300.05,217.69 300.05,217.74 300.50,217.74 300.50,217.94 300.95,217.94 300.95,217.82 301.40,217.82 301.40,218.22 301.85,218.22 301.85,217.90 302.30,217.90 302.30,217.94 302.75,217.94 302.75,217.63 303.20,217.63 303.20,217.72 303.65,217.72 303.65,217.22 304.10,217.22 304.10,216.33 304.55,216.33 304.55,215.68 305.00,215.68 305.00,214.44 305.45,214.44 305.45,213.88 305.90,213.88 305.90,213.30 306.35,213.30 306.35,213.42 306.80,213.42 306.80,214.59 307.25,214.59 307.25,215.29 307.70,215.29 307.70,213.96 308.15,213.96 308.15,212.39 308.60,212.39 308.60,211.65 309.05,211.65 309.05,211.36 309.50,211.36 309.50,212.69 309.95,212.69 309.95,212.42 310.40,212.42 310.40,212.77 310.85,212.77 310.85,211.27 311.30,211.27 311.30,210.13 311.75,210.13 311.75,210.87 312.20,210.87 312.20,210.81 312.65,210.81 312.65,213.03 313.10,213.03 313.10,213.16 313.55,213.16 313.55,212.47 314.00,212.47 314.00,211.18 314.45,211.18 314.45,211.76 314.90,211.76 314.90,212.35 315.35,212.35 315.35,213.91 315.80,213.91 315.80,215.34 316.25,215.34 316.25,214.65 316.70,214.65 316.70,214.29 317.15,214.29 317.15,213.57 317.60,213.57 317.60,213.93 318.05,213.93 318.05,215.10 318.50,215.10 318.50,216.34 318.95,216.34 318.95,216.52 319.40,216.52 319.40,216.20 319.85,216.20 319.85,216.36 320.30,216.36 320.30,217.14 320.75,217.14 320.75,217.73 321.20,217.73 321.20,217.20 321.65,217.20 321.65,217.54 322.10,217.54 322.10,218.59 322.55,218.59 322.55,218.60 323.00,218.60 323.00,218.60 323.45,218.60 323.45,218.60 323.90,218.60 323.90,218.60 324.35,218.60 324.35,218.60 324.80,218.60 324.80,218.60 325.25,218.60 325.25,218.60 325.70,218.60 325.70,218.35 326.15,218.35 326.15,218.35 326.60,218.35 326.60,218.35 327.05,218.35 327.05,218.35 327.50,218.35 327.50,218.35 327.95,218.35 327.95,218.35 328.40,218.35 328.40,217.35 328.85,217.35 328.85,217.65 329.30,217.65 329.30,217.62 329.75,217.62 329.75,218.10 330.20,218.10 330.20,217.44 330.65,217.44 330.65,216.75 331.10,216.75 331.10,216.52 331.55,216.52 331.55,215.95 332.00,215.95 332.00,216.34 332.45,216.34 332.45,217.15 332.90,217.15 332.90,217.68 333.35,217.68 333.35,217.75 333.80,217.75 333.80,217.90 334.25,217.90 334.25,218.06 334.70,218.06 334.70,217.96 335.15,217.96 335.15,217.94 335.60,217.94 335.60,218.03 336.05,218.03 336.05,218.35 336.50,218.35 336.50,218.35 336.95,218.35 336.95,218.35 337.40,218.35 337.40,218.35 337.85,218.35 337.85,218.35 338.30,218.35 338.30,218.35 338.75,218.35 338.75,218.41 339.20,218.41 339.20,218.41 339.65,218.41 339.65,217.92 340.10,217.92 340.10,217.89 340.55,217.89 340.55,217.72 341.00,217.72 341.00,217.76 341.45,217.76 341.45,216.97 341.90,216.97 341.70,218.60" fill="#f0105a"/>
<line x1="205.20" y1="219.60" x2="342.50" y2="219.60" stroke="#333" stroke-width="0.8"/>
<rect x="243.00" y="225.30" width="99.00" height="5.50" fill="#f7f7f7"/>
<line x1="207.00" y1="223.50" x2="250.50" y2="223.50" stroke="#a8b0f0" stroke-width="1.1"/>
<line x1="207.00" y1="223.50" x2="250.50" y2="223.50" stroke="#3a46d8" stroke-width="0.35"/>
<rect x="206.30" y="222.30" width="2.30" height="2.40" fill="#1020c8"/>
<path d="M213.0,222.9 l0.6,0.6 l-0.6,0.6" fill="none" stroke="#3a46d8" stroke-width="0.35"/>
<path d="M219.2,222.9 l0.6,0.6 l-0.6,0.6" fill="none" stroke="#3a46d8" stroke-width="0.35"/>
<path d="M225.4,222.9 l0.6,0.6 l-0.6,0.6" fill="none" stroke="#3a46d8" stroke-width="0.35"/>
<path d="M231.6,222.9 l0.6,0.6 l-0.6,0.6" fill="none" stroke="#3a46d8" stroke-width="0.35"/>
<path d="M237.8,222.9 l0.6,0.6 l-0.6,0.6" fill="none" stroke="#3a46d8" stroke-width="0.35"/>
<path d="M244.0,222.9 l0.6,0.6 l-0.6,0.6" fill="none" stroke="#3a46d8" stroke-width="0.35"/>
<rect x="250.40" y="222.40" width="45.80" height="2.20" fill="#1424c0"/>
<rect x="249.90" y="221.90" width="1.30" height="3.20" fill="#1424c0"/>
<text x="212.40" y="230.80" font-size="4.2" font-weight="bold" font-style="italic" fill="#222">CCND1</text>
<rect x="205.20" y="157.40" width="137.30" height="74.00" fill="none" stroke="#4a4a4a" stroke-width="0.8"/>
<text x="203.60" y="162.56" font-size="4.8" text-anchor="end" fill="#444" stroke="#444" stroke-width="0.14">1.92</text>
<text x="203.60" y="170.56" font-size="4.8" text-anchor="end" fill="#444" stroke="#444" stroke-width="0.14">0</text>
<text x="203.60" y="178.06" font-size="4.8" text-anchor="end" fill="#444" stroke="#444" stroke-width="0.14">1.92</text>
<text x="203.60" y="187.86" font-size="4.8" text-anchor="end" fill="#444" stroke="#444" stroke-width="0.14">0</text>
<text x="203.60" y="195.56" font-size="4.8" text-anchor="end" fill="#444" stroke="#444" stroke-width="0.14">1.36</text>
<text x="203.60" y="204.16" font-size="4.8" text-anchor="end" fill="#444" stroke="#444" stroke-width="0.14">0</text>
<text x="203.60" y="210.56" font-size="4.8" text-anchor="end" fill="#444" stroke="#444" stroke-width="0.14">1.36</text>
<text x="203.60" y="219.36" font-size="4.8" text-anchor="end" fill="#444" stroke="#444" stroke-width="0.14">0</text>
<text transform="translate(188.0,171.5) rotate(-90)" text-anchor="middle" y="0" font-size="6.3" font-weight="bold" fill="#111" stroke="#111" stroke-width="0.12">GR</text>
<line x1="189.30" y1="166.20" x2="189.30" y2="176.90" stroke="#222" stroke-width="0.7"/>
<text transform="translate(188.3,196.4) rotate(-90)" text-anchor="middle" y="0" font-size="6.1" font-weight="bold" fill="#f0105a" stroke="#f0105a" stroke-width="0.3">FOXA1</text>
<line x1="189.60" y1="185.60" x2="189.60" y2="206.80" stroke="#f0105a" stroke-width="0.6"/>
</g>
<g id="F">
<text x="374.50" y="141.32" font-size="8.6" font-weight="bold" fill="#111" stroke="#111" stroke-width="0.35">F</text>
<defs>
<filter id="bl" x="-20%" y="-60%" width="140%" height="220%"><feGaussianBlur stdDeviation="0.6 0.5"/></filter>
<filter id="bl2" x="-20%" y="-60%" width="140%" height="220%"><feGaussianBlur stdDeviation="0.9 0.7"/></filter>
</defs>
<text x="420.30" y="174.82" font-size="5.0" text-anchor="middle" fill="#222" stroke="#222" stroke-width="0.14">shFOXA1</text>
<text x="455.50" y="174.82" font-size="5.0" text-anchor="middle" fill="#222" stroke="#222" stroke-width="0.14">shGR</text>
<text x="496.40" y="174.82" font-size="5.0" text-anchor="middle" fill="#222" stroke="#222" stroke-width="0.14">shFOXA1_shGR</text>
<line x1="405.30" y1="177.50" x2="436.90" y2="177.50" stroke="#222" stroke-width="0.9"/>
<line x1="442.80" y1="177.50" x2="473.80" y2="177.50" stroke="#222" stroke-width="0.9"/>
<line x1="481.50" y1="177.50" x2="512.30" y2="177.50" stroke="#777" stroke-width="0.9"/>
<text x="373.10" y="183.86" font-size="4.8" fill="#444">1μg/mL dox</text>
<line x1="408.80" y1="182.90" x2="409.80" y2="182.90" stroke="#222" stroke-width="0.5"/>
<line x1="428.50" y1="182.60" x2="430.50" y2="182.60" stroke="#222" stroke-width="0.5"/>
<line x1="429.50" y1="181.60" x2="429.50" y2="183.60" stroke="#222" stroke-width="0.5"/>
<line x1="446.50" y1="182.90" x2="447.50" y2="182.90" stroke="#222" stroke-width="0.5"/>
<line x1="467.00" y1="182.60" x2="469.00" y2="182.60" stroke="#222" stroke-width="0.5"/>
<line x1="468.00" y1="181.60" x2="468.00" y2="183.60" stroke="#222" stroke-width="0.5"/>
<line x1="491.80" y1="182.90" x2="492.80" y2="182.90" stroke="#222" stroke-width="0.5"/>
<line x1="510.50" y1="182.60" x2="512.50" y2="182.60" stroke="#222" stroke-width="0.5"/>
<line x1="511.50" y1="181.60" x2="511.50" y2="183.60" stroke="#222" stroke-width="0.5"/>
<rect x="401.40" y="185.60" width="117.00" height="14.90" fill="#fbfbfb"/>
<g filter="url(#bl)">
<rect x="403.40" y="191.45" width="18.00" height="3.90" rx="1.4" fill="rgb(0,0,0)"/>
<rect x="404.40" y="196.55" width="16.00" height="1.6" fill="rgb(235,235,235)"/>
<rect x="422.10" y="190.85" width="19.00" height="3.90" rx="1.4" fill="rgb(0,0,0)"/>
<rect x="423.10" y="195.95" width="17.00" height="1.6" fill="rgb(235,235,235)"/>
<rect x="441.90" y="191.05" width="17.40" height="3.90" rx="1.4" fill="rgb(0,0,0)"/>
<rect x="442.90" y="196.15" width="15.40" height="1.6" fill="rgb(235,235,235)"/>
<rect x="460.40" y="191.25" width="17.40" height="3.90" rx="1.4" fill="rgb(153,153,153)"/>
<rect x="461.40" y="196.35" width="15.40" height="1.6" fill="rgb(247,247,247)"/>
<rect x="479.40" y="191.25" width="18.20" height="3.90" rx="1.4" fill="rgb(0,0,0)"/>
<rect x="480.40" y="196.35" width="16.20" height="1.6" fill="rgb(235,235,235)"/>
<rect x="499.00" y="191.35" width="18.00" height="3.90" rx="1.4" fill="rgb(237,237,237)"/>
<rect x="500.00" y="196.45" width="16.00" height="1.6" fill="rgb(254,254,254)"/>
</g>
<rect x="401.40" y="185.60" width="117.00" height="14.90" fill="none" stroke="#1a1a1a" stroke-width="1.0"/>
<text x="398.40" y="194.88" font-size="5.3" text-anchor="end" fill="#222" stroke="#222" stroke-width="0.14">GR</text>
<rect x="401.40" y="204.30" width="117.00" height="11.50" fill="#fbfbfb"/>
<g filter="url(#bl)">
<rect x="403.40" y="208.05" width="18.00" height="3.30" rx="1.4" fill="rgb(13,13,13)"/>
<rect x="404.40" y="212.55" width="16.00" height="1.6" fill="rgb(236,236,236)"/>
<rect x="422.10" y="208.25" width="19.00" height="3.30" rx="1.4" fill="rgb(222,222,222)"/>
<rect x="423.10" y="212.75" width="17.00" height="1.6" fill="rgb(252,252,252)"/>
<rect x="441.90" y="207.85" width="17.40" height="3.30" rx="1.4" fill="rgb(8,8,8)"/>
<rect x="442.90" y="212.35" width="15.40" height="1.6" fill="rgb(235,235,235)"/>
<rect x="460.40" y="207.95" width="17.40" height="3.30" rx="1.4" fill="rgb(13,13,13)"/>
<rect x="461.40" y="212.45" width="15.40" height="1.6" fill="rgb(236,236,236)"/>
<rect x="479.40" y="208.15" width="18.20" height="3.30" rx="1.4" fill="rgb(25,25,25)"/>
<rect x="480.40" y="212.65" width="16.20" height="1.6" fill="rgb(237,237,237)"/>
<rect x="499.00" y="208.35" width="18.00" height="3.30" rx="1.4" fill="rgb(199,199,199)"/>
<rect x="500.00" y="212.85" width="16.00" height="1.6" fill="rgb(251,251,251)"/>
</g>
<rect x="401.40" y="204.30" width="117.00" height="11.50" fill="none" stroke="#1a1a1a" stroke-width="1.0"/>
<text x="398.40" y="211.88" font-size="5.3" text-anchor="end" fill="#222" stroke="#222" stroke-width="0.14">FOXA1</text>
<rect x="401.40" y="219.50" width="117.00" height="12.30" fill="#fbfbfb"/>
<g filter="url(#bl)">
<rect x="402.80" y="223.75" width="19.20" height="4.30" rx="1.4" fill="rgb(0,0,0)"/>
<rect x="403.80" y="229.25" width="17.20" height="1.6" fill="rgb(235,235,235)"/>
<rect x="421.50" y="223.45" width="20.20" height="4.30" rx="1.4" fill="rgb(0,0,0)"/>
<rect x="422.50" y="228.95" width="18.20" height="1.6" fill="rgb(235,235,235)"/>
<rect x="441.30" y="223.55" width="18.60" height="4.30" rx="1.4" fill="rgb(0,0,0)"/>
<rect x="442.30" y="229.05" width="16.60" height="1.6" fill="rgb(235,235,235)"/>
<rect x="459.80" y="223.75" width="18.60" height="4.30" rx="1.4" fill="rgb(0,0,0)"/>
<rect x="460.80" y="229.25" width="16.60" height="1.6" fill="rgb(235,235,235)"/>
<rect x="478.80" y="223.65" width="19.40" height="4.30" rx="1.4" fill="rgb(0,0,0)"/>
<rect x="479.80" y="229.15" width="17.40" height="1.6" fill="rgb(235,235,235)"/>
<rect x="498.40" y="223.85" width="19.20" height="4.30" rx="1.4" fill="rgb(0,0,0)"/>
<rect x="499.40" y="229.35" width="17.20" height="1.6" fill="rgb(235,235,235)"/>
</g>
<rect x="401.40" y="219.50" width="117.00" height="12.30" fill="none" stroke="#1a1a1a" stroke-width="1.0"/>
<text x="398.40" y="227.48" font-size="5.3" text-anchor="end" fill="#222" stroke="#222" stroke-width="0.14">β-Actin</text>
</g>
<g id="D">
<text x="0.60" y="250.47" font-size="8.6" font-weight="bold" fill="#111" stroke="#111" stroke-width="0.35">D</text>
<text x="54.50" y="256.84" font-size="5.9" font-weight="bold" font-style="italic" text-anchor="middle" fill="#111" stroke="#111" stroke-width="0.14">TGFA</text>
<rect x="26.40" y="328.20" width="4.90" height="0.50" fill="#000"/>
<line x1="37.15" y1="324.60" x2="37.15" y2="322.20" stroke="#8a8a8a" stroke-width="0.55"/>
<line x1="36.15" y1="322.20" x2="38.15" y2="322.20" stroke="#8a8a8a" stroke-width="0.55"/>
<rect x="34.40" y="324.60" width="5.50" height="4.10" fill="#fc0a5a"/>
<line x1="50.60" y1="326.90" x2="50.60" y2="325.30" stroke="#8a8a8a" stroke-width="0.55"/>
<line x1="49.60" y1="325.30" x2="51.60" y2="325.30" stroke="#8a8a8a" stroke-width="0.55"/>
<rect x="48.00" y="326.90" width="5.20" height="1.80" fill="#000"/>
<line x1="58.65" y1="291.30" x2="58.65" y2="269.60" stroke="#8a8a8a" stroke-width="0.55"/>
<line x1="57.65" y1="269.60" x2="59.65" y2="269.60" stroke="#8a8a8a" stroke-width="0.55"/>
<rect x="56.00" y="291.30" width="5.30" height="37.40" fill="#fc0a5a"/>
<line x1="71.80" y1="316.10" x2="71.80" y2="308.30" stroke="#8a8a8a" stroke-width="0.55"/>
<line x1="70.80" y1="308.30" x2="72.80" y2="308.30" stroke="#8a8a8a" stroke-width="0.55"/>
<rect x="69.20" y="316.10" width="5.20" height="12.60" fill="#000"/>
<line x1="79.80" y1="325.00" x2="79.80" y2="323.00" stroke="#8a8a8a" stroke-width="0.55"/>
<line x1="78.80" y1="323.00" x2="80.80" y2="323.00" stroke="#8a8a8a" stroke-width="0.55"/>
<rect x="77.00" y="325.00" width="5.60" height="3.70" fill="#fc0a5a"/>
<line x1="22.10" y1="264.90" x2="22.10" y2="329.00" stroke="#444" stroke-width="0.9"/>
<line x1="21.80" y1="328.70" x2="86.60" y2="328.70" stroke="#777" stroke-width="0.9"/>
<line x1="19.70" y1="328.70" x2="22.10" y2="328.70" stroke="#333" stroke-width="0.7"/>
<text x="18.90" y="330.46" font-size="5.1" font-weight="bold" text-anchor="end" fill="#222" stroke="#222" stroke-width="0.14">0.00</text>
<line x1="19.70" y1="307.55" x2="22.10" y2="307.55" stroke="#333" stroke-width="0.7"/>
<text x="18.90" y="309.31" font-size="5.1" font-weight="bold" text-anchor="end" fill="#222" stroke="#222" stroke-width="0.14">0.01</text>
<line x1="19.70" y1="286.40" x2="22.10" y2="286.40" stroke="#333" stroke-width="0.7"/>
<text x="18.90" y="288.16" font-size="5.1" font-weight="bold" text-anchor="end" fill="#222" stroke="#222" stroke-width="0.14">0.02</text>
<line x1="19.70" y1="265.25" x2="22.10" y2="265.25" stroke="#333" stroke-width="0.7"/>
<text x="18.90" y="267.01" font-size="5.1" font-weight="bold" text-anchor="end" fill="#222" stroke="#222" stroke-width="0.14">0.03</text>
<line x1="33.20" y1="328.70" x2="33.20" y2="330.00" stroke="#222" stroke-width="0.5"/>
<text transform="translate(33.70,334.70) rotate(-45)" text-anchor="end" y="1.7" font-size="5.1" font-weight="bold" fill="#222">IgG</text>
<line x1="54.40" y1="328.70" x2="54.40" y2="330.00" stroke="#222" stroke-width="0.5"/>
<text transform="translate(54.90,334.70) rotate(-45)" text-anchor="end" y="1.7" font-size="5.1" font-weight="bold" fill="#222">GR</text>
<line x1="75.80" y1="328.70" x2="75.80" y2="330.00" stroke="#222" stroke-width="0.5"/>
<text transform="translate(76.30,334.70) rotate(-45)" text-anchor="end" y="1.7" font-size="5.1" font-weight="bold" fill="#222">FOXA1</text>
<text transform="translate(3.70,296.70) rotate(-90)" text-anchor="middle" y="1.9" font-size="5.5" font-weight="bold" fill="#222">% of Input</text>
<rect x="81.70" y="286.40" width="7.10" height="3.40" fill="#000"/>
<rect x="81.70" y="295.10" width="7.10" height="3.40" fill="#fc0a5a"/>
<text x="92.50" y="289.93" font-size="5.3" fill="#222" stroke="#222" stroke-width="0.14">VEH</text>
<text x="92.50" y="298.73" font-size="5.3" fill="#222" stroke="#222" stroke-width="0.14">100nmol/L Dex</text>
<text x="187.70" y="255.64" font-size="5.9" font-weight="bold" font-style="italic" text-anchor="middle" fill="#111" stroke="#111" stroke-width="0.14">CCND1</text>
<line x1="163.65" y1="322.10" x2="163.65" y2="319.40" stroke="#8a8a8a" stroke-width="0.55"/>
<line x1="162.65" y1="319.40" x2="164.65" y2="319.40" stroke="#8a8a8a" stroke-width="0.55"/>
<rect x="161.20" y="322.10" width="4.90" height="3.10" fill="#000"/>
<line x1="171.60" y1="323.00" x2="171.60" y2="320.30" stroke="#8a8a8a" stroke-width="0.55"/>
<line x1="170.60" y1="320.30" x2="172.60" y2="320.30" stroke="#8a8a8a" stroke-width="0.55"/>
<rect x="169.20" y="323.00" width="4.80" height="2.20" fill="#fc0a5a"/>
<line x1="184.05" y1="317.60" x2="184.05" y2="310.00" stroke="#8a8a8a" stroke-width="0.55"/>
<line x1="183.05" y1="310.00" x2="185.05" y2="310.00" stroke="#8a8a8a" stroke-width="0.55"/>
<rect x="181.50" y="317.60" width="5.10" height="7.60" fill="#000"/>
<line x1="191.90" y1="295.90" x2="191.90" y2="274.30" stroke="#8a8a8a" stroke-width="0.55"/>
<line x1="190.90" y1="274.30" x2="192.90" y2="274.30" stroke="#8a8a8a" stroke-width="0.55"/>
<rect x="189.30" y="295.90" width="5.20" height="29.30" fill="#fc0a5a"/>
<line x1="204.50" y1="315.30" x2="204.50" y2="306.20" stroke="#8a8a8a" stroke-width="0.55"/>
<line x1="203.50" y1="306.20" x2="205.50" y2="306.20" stroke="#8a8a8a" stroke-width="0.55"/>
<rect x="201.80" y="315.30" width="5.40" height="9.90" fill="#000"/>
<line x1="212.55" y1="323.00" x2="212.55" y2="322.30" stroke="#8a8a8a" stroke-width="0.55"/>
<line x1="211.55" y1="322.30" x2="213.55" y2="322.30" stroke="#8a8a8a" stroke-width="0.55"/>
<rect x="210.10" y="323.00" width="4.90" height="2.20" fill="#fc0a5a"/>
<line x1="156.90" y1="263.80" x2="156.90" y2="325.50" stroke="#999" stroke-width="0.9"/>
<line x1="156.60" y1="325.20" x2="218.70" y2="325.20" stroke="#333" stroke-width="0.9"/>
<line x1="154.50" y1="325.20" x2="156.90" y2="325.20" stroke="#333" stroke-width="0.7"/>
<text x="153.70" y="326.96" font-size="5.1" font-weight="bold" text-anchor="end" fill="#222" stroke="#222" stroke-width="0.14">0.00</text>
<line x1="154.50" y1="309.92" x2="156.90" y2="309.92" stroke="#333" stroke-width="0.7"/>
<text x="153.70" y="311.68" font-size="5.1" font-weight="bold" text-anchor="end" fill="#222" stroke="#222" stroke-width="0.14">0.02</text>
<line x1="154.50" y1="294.64" x2="156.90" y2="294.64" stroke="#333" stroke-width="0.7"/>
<text x="153.70" y="296.40" font-size="5.1" font-weight="bold" text-anchor="end" fill="#222" stroke="#222" stroke-width="0.14">0.04</text>
<line x1="154.50" y1="279.36" x2="156.90" y2="279.36" stroke="#333" stroke-width="0.7"/>
<text x="153.70" y="281.12" font-size="5.1" font-weight="bold" text-anchor="end" fill="#222" stroke="#222" stroke-width="0.14">0.06</text>
<line x1="154.50" y1="264.08" x2="156.90" y2="264.08" stroke="#333" stroke-width="0.7"/>
<text x="153.70" y="265.84" font-size="5.1" font-weight="bold" text-anchor="end" fill="#222" stroke="#222" stroke-width="0.14">0.08</text>
<line x1="167.60" y1="325.20" x2="167.60" y2="326.50" stroke="#222" stroke-width="0.5"/>
<text transform="translate(168.10,331.20) rotate(-45)" text-anchor="end" y="1.7" font-size="5.1" font-weight="bold" fill="#222">IgG</text>
<line x1="188.00" y1="325.20" x2="188.00" y2="326.50" stroke="#222" stroke-width="0.5"/>
<text transform="translate(188.50,331.20) rotate(-45)" text-anchor="end" y="1.7" font-size="5.1" font-weight="bold" fill="#222">GR</text>
<line x1="208.40" y1="325.20" x2="208.40" y2="326.50" stroke="#222" stroke-width="0.5"/>
<text transform="translate(208.90,331.20) rotate(-45)" text-anchor="end" y="1.7" font-size="5.1" font-weight="bold" fill="#222">FOXA1</text>
<text transform="translate(139.90,293.70) rotate(-90)" text-anchor="middle" y="1.9" font-size="5.5" font-weight="bold" fill="#222">% of Input</text>
<rect x="215.10" y="284.60" width="7.10" height="3.40" fill="#000"/>
<rect x="215.10" y="293.30" width="7.10" height="3.40" fill="#fc0a5a"/>
<text x="225.90" y="288.13" font-size="5.3" fill="#222" stroke="#222" stroke-width="0.14">VEH</text>
<text x="225.90" y="296.93" font-size="5.3" fill="#222" stroke="#222" stroke-width="0.14">100nmol/L Dex</text>
</g>
<g id="G">
<text x="271.10" y="250.72" font-size="8.6" font-weight="bold" fill="#111" stroke="#111" stroke-width="0.35">G</text>
<line x1="294.85" y1="254.90" x2="294.85" y2="324.30" stroke="#111" stroke-width="1.0"/>
<line x1="294.35" y1="323.80" x2="435.30" y2="323.80" stroke="#111" stroke-width="1.1"/>
<line x1="292.65" y1="323.80" x2="294.85" y2="323.80" stroke="#111" stroke-width="0.8"/>
<text x="290.85" y="325.53" font-size="5.0" font-weight="bold" text-anchor="end" fill="#222" stroke="#222" stroke-width="0.14">0.0</text>
<line x1="292.65" y1="306.55" x2="294.85" y2="306.55" stroke="#111" stroke-width="0.8"/>
<text x="290.85" y="308.28" font-size="5.0" font-weight="bold" text-anchor="end" fill="#222" stroke="#222" stroke-width="0.14">0.5</text>
<line x1="292.65" y1="289.30" x2="294.85" y2="289.30" stroke="#111" stroke-width="0.8"/>
<text x="290.85" y="291.03" font-size="5.0" font-weight="bold" text-anchor="end" fill="#222" stroke="#222" stroke-width="0.14">1.0</text>
<line x1="292.65" y1="272.05" x2="294.85" y2="272.05" stroke="#111" stroke-width="0.8"/>
<text x="290.85" y="273.78" font-size="5.0" font-weight="bold" text-anchor="end" fill="#222" stroke="#222" stroke-width="0.14">1.5</text>
<line x1="292.65" y1="254.80" x2="294.85" y2="254.80" stroke="#111" stroke-width="0.8"/>
<text x="290.85" y="256.53" font-size="5.0" font-weight="bold" text-anchor="end" fill="#222" stroke="#222" stroke-width="0.14">2.0</text>
<text transform="translate(279.4,288.8) rotate(-90)" text-anchor="middle" y="1.9" font-size="5.55" font-weight="bold" fill="#222">mRNA fold change</text>
<line x1="300.05" y1="299.65" x2="300.05" y2="298.96" stroke="#222222" stroke-width="0.8"/>
<line x1="298.75" y1="298.96" x2="301.35" y2="298.96" stroke="#222222" stroke-width="0.8"/>
<path d="M298.22,323.80 V301.15 Q298.22,300.18 300.05,300.18 Q301.88,300.18 301.88,301.15 V323.80" fill="#fff" stroke="#222222" stroke-width="1.05"/>
<text x="300.05" y="297.43" font-size="3.1" text-anchor="middle" fill="#333" stroke="#333" stroke-width="0.06">0.7</text>
<path d="M305.84,323.80 V314.95 Q305.84,313.97 307.67,313.97 Q309.50,313.97 309.50,314.95 V323.80" fill="#fff" stroke="#ff2d78" stroke-width="1.05"/>
<text x="307.67" y="311.92" font-size="3.1" text-anchor="middle" fill="#333" stroke="#333" stroke-width="0.06">0.3</text>
<line x1="315.29" y1="282.40" x2="315.29" y2="279.64" stroke="#2ea6a6" stroke-width="0.8"/>
<line x1="313.99" y1="279.64" x2="316.59" y2="279.64" stroke="#2ea6a6" stroke-width="0.8"/>
<path d="M313.46,323.80 V283.90 Q313.46,282.93 315.29,282.93 Q317.12,282.93 317.12,283.90 V323.80" fill="#fff" stroke="#2ea6a6" stroke-width="1.05"/>
<text x="315.29" y="278.11" font-size="3.1" text-anchor="middle" fill="#333" stroke="#333" stroke-width="0.06">1.2</text>
<path d="M321.08,323.80 V318.40 Q321.08,317.43 322.91,317.43 Q324.74,317.43 324.74,318.40 V323.80" fill="#fff" stroke="#6a2db4" stroke-width="1.05"/>
<text x="322.91" y="315.37" font-size="3.1" text-anchor="middle" fill="#333" stroke="#333" stroke-width="0.06">0.2</text>
<line x1="311.48" y1="323.80" x2="311.48" y2="325.20" stroke="#111" stroke-width="0.6"/>
<text x="311.48" y="333.09" font-size="4.9" font-weight="bold" font-style="italic" text-anchor="middle" fill="#111" stroke="#111" stroke-width="0.14">FOXA1</text>
<line x1="335.65" y1="296.20" x2="335.65" y2="294.82" stroke="#222222" stroke-width="0.8"/>
<line x1="334.35" y1="294.82" x2="336.95" y2="294.82" stroke="#222222" stroke-width="0.8"/>
<path d="M333.82,323.80 V297.70 Q333.82,296.72 335.65,296.72 Q337.48,296.72 337.48,297.70 V323.80" fill="#fff" stroke="#222222" stroke-width="1.05"/>
<text x="335.65" y="293.29" font-size="3.1" text-anchor="middle" fill="#333" stroke="#333" stroke-width="0.06">0.8</text>
<path d="M341.44,323.80 V297.70 Q341.44,296.72 343.27,296.72 Q345.10,296.72 345.10,297.70 V323.80" fill="#fff" stroke="#ff2d78" stroke-width="1.05"/>
<text x="343.27" y="294.67" font-size="3.1" text-anchor="middle" fill="#333" stroke="#333" stroke-width="0.06">0.8</text>
<path d="M349.06,323.80 V314.95 Q349.06,313.97 350.89,313.97 Q352.72,313.97 352.72,314.95 V323.80" fill="#fff" stroke="#2ea6a6" stroke-width="1.05"/>
<text x="350.89" y="311.92" font-size="3.1" text-anchor="middle" fill="#333" stroke="#333" stroke-width="0.06">0.3</text>
<path d="M356.69,323.80 V321.85 Q356.69,320.88 358.51,320.88 Q360.34,320.88 360.34,321.85 V323.80" fill="#fff" stroke="#6a2db4" stroke-width="1.05"/>
<text x="358.51" y="318.82" font-size="3.1" text-anchor="middle" fill="#333" stroke="#333" stroke-width="0.06">0.1</text>
<line x1="347.08" y1="323.80" x2="347.08" y2="325.20" stroke="#111" stroke-width="0.6"/>
<text x="347.08" y="333.09" font-size="4.9" font-weight="bold" font-style="italic" text-anchor="middle" fill="#111" stroke="#111" stroke-width="0.14">NR3C1</text>
<line x1="371.35" y1="299.65" x2="371.35" y2="298.96" stroke="#222222" stroke-width="0.8"/>
<line x1="370.05" y1="298.96" x2="372.65" y2="298.96" stroke="#222222" stroke-width="0.8"/>
<path d="M369.52,323.80 V301.15 Q369.52,300.18 371.35,300.18 Q373.18,300.18 373.18,301.15 V323.80" fill="#fff" stroke="#222222" stroke-width="1.05"/>
<text x="371.35" y="297.43" font-size="3.1" text-anchor="middle" fill="#333" stroke="#333" stroke-width="0.06">0.7</text>
<path d="M377.14,323.80 V297.70 Q377.14,296.72 378.97,296.72 Q380.80,296.72 380.80,297.70 V323.80" fill="#fff" stroke="#ff2d78" stroke-width="1.05"/>
<text x="378.97" y="294.67" font-size="3.1" text-anchor="middle" fill="#333" stroke="#333" stroke-width="0.06">0.8</text>
<line x1="386.59" y1="310.00" x2="386.59" y2="307.93" stroke="#2ea6a6" stroke-width="0.8"/>
<line x1="385.29" y1="307.93" x2="387.89" y2="307.93" stroke="#2ea6a6" stroke-width="0.8"/>
<path d="M384.76,323.80 V311.50 Q384.76,310.52 386.59,310.52 Q388.42,310.52 388.42,311.50 V323.80" fill="#fff" stroke="#2ea6a6" stroke-width="1.05"/>
<text x="386.59" y="306.40" font-size="3.1" text-anchor="middle" fill="#333" stroke="#333" stroke-width="0.06">0.4</text>
<line x1="394.21" y1="313.45" x2="394.21" y2="311.72" stroke="#6a2db4" stroke-width="0.8"/>
<line x1="392.91" y1="311.72" x2="395.51" y2="311.72" stroke="#6a2db4" stroke-width="0.8"/>
<path d="M392.38,323.80 V314.95 Q392.38,313.97 394.21,313.97 Q396.04,313.97 396.04,314.95 V323.80" fill="#fff" stroke="#6a2db4" stroke-width="1.05"/>
<text x="394.21" y="310.19" font-size="3.1" text-anchor="middle" fill="#333" stroke="#333" stroke-width="0.06">0.3</text>
<line x1="382.78" y1="323.80" x2="382.78" y2="325.20" stroke="#111" stroke-width="0.6"/>
<text x="382.78" y="333.09" font-size="4.9" font-weight="bold" font-style="italic" text-anchor="middle" fill="#111" stroke="#111" stroke-width="0.14">TGFA</text>
<line x1="407.15" y1="278.95" x2="407.15" y2="267.91" stroke="#222222" stroke-width="0.8"/>
<line x1="405.85" y1="267.91" x2="408.45" y2="267.91" stroke="#222222" stroke-width="0.8"/>
<path d="M405.32,323.80 V280.45 Q405.32,279.47 407.15,279.47 Q408.98,279.47 408.98,280.45 V323.80" fill="#fff" stroke="#222222" stroke-width="1.05"/>
<text x="407.15" y="266.38" font-size="3.1" text-anchor="middle" fill="#333" stroke="#333" stroke-width="0.06">1.3</text>
<line x1="414.77" y1="296.20" x2="414.77" y2="281.02" stroke="#ff2d78" stroke-width="0.8"/>
<line x1="413.47" y1="281.02" x2="416.07" y2="281.02" stroke="#ff2d78" stroke-width="0.8"/>
<path d="M412.94,323.80 V297.70 Q412.94,296.72 414.77,296.72 Q416.60,296.72 416.60,297.70 V323.80" fill="#fff" stroke="#ff2d78" stroke-width="1.05"/>
<text x="414.77" y="279.49" font-size="3.1" text-anchor="middle" fill="#333" stroke="#333" stroke-width="0.06">0.8</text>
<line x1="422.39" y1="306.55" x2="422.39" y2="304.48" stroke="#2ea6a6" stroke-width="0.8"/>
<line x1="421.09" y1="304.48" x2="423.69" y2="304.48" stroke="#2ea6a6" stroke-width="0.8"/>
<path d="M420.56,323.80 V308.05 Q420.56,307.07 422.39,307.07 Q424.22,307.07 424.22,308.05 V323.80" fill="#fff" stroke="#2ea6a6" stroke-width="1.05"/>
<text x="422.39" y="302.95" font-size="3.1" text-anchor="middle" fill="#333" stroke="#333" stroke-width="0.06">0.5</text>
<line x1="430.01" y1="306.55" x2="430.01" y2="304.48" stroke="#6a2db4" stroke-width="0.8"/>
<line x1="428.71" y1="304.48" x2="431.31" y2="304.48" stroke="#6a2db4" stroke-width="0.8"/>
<path d="M428.19,323.80 V308.05 Q428.19,307.07 430.01,307.07 Q431.84,307.07 431.84,308.05 V323.80" fill="#fff" stroke="#6a2db4" stroke-width="1.05"/>
<text x="430.01" y="302.95" font-size="3.1" text-anchor="middle" fill="#333" stroke="#333" stroke-width="0.06">0.5</text>
<line x1="418.58" y1="323.80" x2="418.58" y2="325.20" stroke="#111" stroke-width="0.6"/>
<text x="418.58" y="333.09" font-size="4.9" font-weight="bold" font-style="italic" text-anchor="middle" fill="#111" stroke="#111" stroke-width="0.14">CCND1</text>
<text x="441.20" y="266.21" font-size="5.55" font-weight="bold" fill="#111" stroke="#111" stroke-width="0.14">72 hours 1μg/mL doxycycline</text>
<rect x="441.30" y="272.30" width="7.4" height="3.3" rx="0.9" fill="#fff" stroke="#222222" stroke-width="1.1"/>
<text x="452.20" y="276.23" font-size="5.6" fill="#222" stroke="#222" stroke-width="0.14">shRen</text>
<rect x="441.30" y="282.40" width="7.4" height="3.3" rx="0.9" fill="#fff" stroke="#ff2d78" stroke-width="1.1"/>
<text x="452.20" y="286.33" font-size="5.6" fill="#222" stroke="#222" stroke-width="0.14">shRen_shFOXA1</text>
<rect x="441.30" y="291.90" width="7.4" height="3.3" rx="0.9" fill="#fff" stroke="#2ea6a6" stroke-width="1.1"/>
<text x="452.20" y="295.83" font-size="5.6" fill="#222" stroke="#222" stroke-width="0.14">shRen_shGR</text>
<rect x="441.30" y="301.50" width="7.4" height="3.3" rx="0.9" fill="#fff" stroke="#6a2db4" stroke-width="1.1"/>
<text x="452.20" y="305.43" font-size="5.6" fill="#222" stroke="#222" stroke-width="0.14">shFOXA1_shGR</text>
</g>
</svg>
</body></html>
